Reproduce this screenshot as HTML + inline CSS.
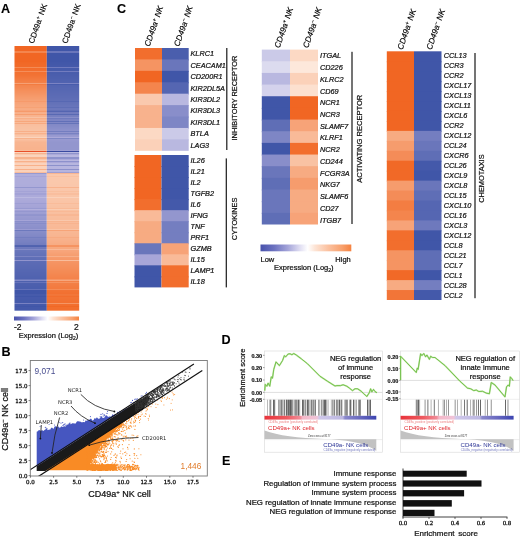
<!DOCTYPE html>
<html lang="en"><head><meta charset="utf-8"><title>Figure</title><style>html,body{margin:0;padding:0;background:#fff}svg{display:block}</style></head><body>
<svg width="520" height="537" viewBox="0 0 520 537" font-family='"Liberation Sans", Arial, sans-serif' fill="#111">
<defs>
<linearGradient id="cb" x1="0" x2="1" y1="0" y2="0"><stop offset="0" stop-color="#4852ac"/><stop offset="0.15" stop-color="#6c72c0"/><stop offset="0.3" stop-color="#a4a4d9"/><stop offset="0.44" stop-color="#e2e0f3"/><stop offset="0.52" stop-color="#ffffff"/><stop offset="0.6" stop-color="#fde4d5"/><stop offset="0.75" stop-color="#fbc09e"/><stop offset="0.9" stop-color="#f8a06c"/><stop offset="1" stop-color="#f58240"/></linearGradient>
</defs>
<rect width="520" height="537" fill="#fff"/>
<text x="1" y="13.2" font-size="12.6" font-weight="bold" fill="#000" stroke="#000" stroke-width="0.1">A</text>
<text x="1.5" y="356" font-size="12.6" font-weight="bold" fill="#000" stroke="#000" stroke-width="0.1">B</text>
<text x="117" y="13.4" font-size="12.6" font-weight="bold" fill="#000" stroke="#000" stroke-width="0.1">C</text>
<text x="221.5" y="343.5" font-size="12.6" font-weight="bold" fill="#000" stroke="#000" stroke-width="0.1">D</text>
<text x="222" y="464.8" font-size="12.6" font-weight="bold" fill="#000" stroke="#000" stroke-width="0.1">E</text>
<rect x="14.5" y="46.00" width="32.30" height="1.05" fill="#f16623"/>
<rect x="46.8" y="46.00" width="32.40" height="1.05" fill="#4056a8"/>
<rect x="14.5" y="47.00" width="32.30" height="1.05" fill="#f16623"/>
<rect x="46.8" y="47.00" width="32.40" height="1.05" fill="#4056a8"/>
<rect x="14.5" y="48.00" width="32.30" height="1.05" fill="#f16623"/>
<rect x="46.8" y="48.00" width="32.40" height="1.05" fill="#4056a8"/>
<rect x="14.5" y="49.00" width="32.30" height="1.05" fill="#f16623"/>
<rect x="46.8" y="49.00" width="32.40" height="1.05" fill="#4056a8"/>
<rect x="14.5" y="50.00" width="32.30" height="1.05" fill="#f16623"/>
<rect x="46.8" y="50.00" width="32.40" height="1.05" fill="#4056a8"/>
<rect x="14.5" y="51.00" width="32.30" height="1.05" fill="#f4854d"/>
<rect x="46.8" y="51.00" width="32.40" height="1.05" fill="#6a76bb"/>
<rect x="14.5" y="52.00" width="32.30" height="1.05" fill="#f4854d"/>
<rect x="46.8" y="52.00" width="32.40" height="1.05" fill="#6a76bb"/>
<rect x="14.5" y="53.00" width="32.30" height="1.05" fill="#f16623"/>
<rect x="46.8" y="53.00" width="32.40" height="1.05" fill="#4056a8"/>
<rect x="14.5" y="54.00" width="32.30" height="1.05" fill="#f16623"/>
<rect x="46.8" y="54.00" width="32.40" height="1.05" fill="#4056a8"/>
<rect x="14.5" y="55.00" width="32.30" height="1.05" fill="#f16623"/>
<rect x="46.8" y="55.00" width="32.40" height="1.05" fill="#4056a8"/>
<rect x="14.5" y="56.00" width="32.30" height="1.05" fill="#f16623"/>
<rect x="46.8" y="56.00" width="32.40" height="1.05" fill="#4056a8"/>
<rect x="14.5" y="57.00" width="32.30" height="1.05" fill="#f16623"/>
<rect x="46.8" y="57.00" width="32.40" height="1.05" fill="#4056a8"/>
<rect x="14.5" y="58.00" width="32.30" height="1.05" fill="#f16623"/>
<rect x="46.8" y="58.00" width="32.40" height="1.05" fill="#4056a8"/>
<rect x="14.5" y="59.00" width="32.30" height="1.05" fill="#f16623"/>
<rect x="46.8" y="59.00" width="32.40" height="1.05" fill="#4056a8"/>
<rect x="14.5" y="60.00" width="32.30" height="1.05" fill="#f16624"/>
<rect x="46.8" y="60.00" width="32.40" height="1.05" fill="#4056a8"/>
<rect x="14.5" y="61.00" width="32.30" height="1.05" fill="#f16623"/>
<rect x="46.8" y="61.00" width="32.40" height="1.05" fill="#4056a8"/>
<rect x="14.5" y="62.00" width="32.30" height="1.05" fill="#f16826"/>
<rect x="46.8" y="62.00" width="32.40" height="1.05" fill="#4257a9"/>
<rect x="14.5" y="63.00" width="32.30" height="1.05" fill="#f16927"/>
<rect x="46.8" y="63.00" width="32.40" height="1.05" fill="#4258a9"/>
<rect x="14.5" y="64.00" width="32.30" height="1.05" fill="#f16a28"/>
<rect x="46.8" y="64.00" width="32.40" height="1.05" fill="#4358a9"/>
<rect x="14.5" y="65.00" width="32.30" height="1.05" fill="#f16a29"/>
<rect x="46.8" y="65.00" width="32.40" height="1.05" fill="#4459aa"/>
<rect x="14.5" y="66.00" width="32.30" height="1.05" fill="#f16b2a"/>
<rect x="46.8" y="66.00" width="32.40" height="1.05" fill="#4559aa"/>
<rect x="14.5" y="67.00" width="32.30" height="1.05" fill="#f48b55"/>
<rect x="46.8" y="67.00" width="32.40" height="1.05" fill="#6f7abe"/>
<rect x="14.5" y="68.00" width="32.30" height="1.05" fill="#f26d2c"/>
<rect x="46.8" y="68.00" width="32.40" height="1.05" fill="#465bab"/>
<rect x="14.5" y="69.00" width="32.30" height="1.05" fill="#f26e2e"/>
<rect x="46.8" y="69.00" width="32.40" height="1.05" fill="#475bab"/>
<rect x="14.5" y="70.00" width="32.30" height="1.05" fill="#f26f2f"/>
<rect x="46.8" y="70.00" width="32.40" height="1.05" fill="#475cab"/>
<rect x="14.5" y="71.00" width="32.30" height="1.05" fill="#f58e5a"/>
<rect x="46.8" y="71.00" width="32.40" height="1.05" fill="#727cbf"/>
<rect x="14.5" y="72.00" width="32.30" height="1.05" fill="#f27031"/>
<rect x="46.8" y="72.00" width="32.40" height="1.05" fill="#495dac"/>
<rect x="14.5" y="73.00" width="32.30" height="1.05" fill="#f27132"/>
<rect x="46.8" y="73.00" width="32.40" height="1.05" fill="#495dac"/>
<rect x="14.5" y="74.00" width="32.30" height="1.05" fill="#f27233"/>
<rect x="46.8" y="74.00" width="32.40" height="1.05" fill="#4a5ead"/>
<rect x="14.5" y="75.00" width="32.30" height="1.05" fill="#f27335"/>
<rect x="46.8" y="75.00" width="32.40" height="1.05" fill="#4b5ead"/>
<rect x="14.5" y="76.00" width="32.30" height="1.05" fill="#f27538"/>
<rect x="46.8" y="76.00" width="32.40" height="1.05" fill="#4c5fad"/>
<rect x="14.5" y="77.00" width="32.30" height="1.05" fill="#f3773a"/>
<rect x="46.8" y="77.00" width="32.40" height="1.05" fill="#4c60ae"/>
<rect x="14.5" y="78.00" width="32.30" height="1.05" fill="#f3793d"/>
<rect x="46.8" y="78.00" width="32.40" height="1.05" fill="#4d60ae"/>
<rect x="14.5" y="79.00" width="32.30" height="1.05" fill="#f37b3f"/>
<rect x="46.8" y="79.00" width="32.40" height="1.05" fill="#4e61af"/>
<rect x="14.5" y="80.00" width="32.30" height="1.05" fill="#f37c42"/>
<rect x="46.8" y="80.00" width="32.40" height="1.05" fill="#4f62af"/>
<rect x="14.5" y="81.00" width="32.30" height="1.05" fill="#f37e44"/>
<rect x="46.8" y="81.00" width="32.40" height="1.05" fill="#5062af"/>
<rect x="14.5" y="82.00" width="32.30" height="1.05" fill="#f38047"/>
<rect x="46.8" y="82.00" width="32.40" height="1.05" fill="#5163b0"/>
<rect x="14.5" y="83.00" width="32.30" height="1.05" fill="#f6a074"/>
<rect x="46.8" y="83.00" width="32.40" height="1.05" fill="#7b83c3"/>
<rect x="14.5" y="84.00" width="32.30" height="1.05" fill="#f37c41"/>
<rect x="46.8" y="84.00" width="32.40" height="1.05" fill="#485cac"/>
<rect x="14.5" y="85.00" width="32.30" height="1.05" fill="#f4864e"/>
<rect x="46.8" y="85.00" width="32.40" height="1.05" fill="#5365b1"/>
<rect x="14.5" y="86.00" width="32.30" height="1.05" fill="#f48751"/>
<rect x="46.8" y="86.00" width="32.40" height="1.05" fill="#5465b1"/>
<rect x="14.5" y="87.00" width="32.30" height="1.05" fill="#f48953"/>
<rect x="46.8" y="87.00" width="32.40" height="1.05" fill="#5566b2"/>
<rect x="14.5" y="88.00" width="32.30" height="1.05" fill="#f48b56"/>
<rect x="46.8" y="88.00" width="32.40" height="1.05" fill="#5667b2"/>
<rect x="14.5" y="89.00" width="32.30" height="1.05" fill="#f58d58"/>
<rect x="46.8" y="89.00" width="32.40" height="1.05" fill="#5667b2"/>
<rect x="14.5" y="90.00" width="32.30" height="1.05" fill="#f58f5b"/>
<rect x="46.8" y="90.00" width="32.40" height="1.05" fill="#5768b3"/>
<rect x="14.5" y="91.00" width="32.30" height="1.05" fill="#f5915e"/>
<rect x="46.8" y="91.00" width="32.40" height="1.05" fill="#5869b3"/>
<rect x="14.5" y="92.00" width="32.30" height="1.05" fill="#f59260"/>
<rect x="46.8" y="92.00" width="32.40" height="1.05" fill="#5969b4"/>
<rect x="14.5" y="93.00" width="32.30" height="1.05" fill="#f59463"/>
<rect x="46.8" y="93.00" width="32.40" height="1.05" fill="#5a6ab4"/>
<rect x="14.5" y="94.00" width="32.30" height="1.05" fill="#f59665"/>
<rect x="46.8" y="94.00" width="32.40" height="1.05" fill="#5b6ab4"/>
<rect x="14.5" y="95.00" width="32.30" height="1.05" fill="#f69868"/>
<rect x="46.8" y="95.00" width="32.40" height="1.05" fill="#5b6bb5"/>
<rect x="14.5" y="96.00" width="32.30" height="1.05" fill="#f69a6a"/>
<rect x="46.8" y="96.00" width="32.40" height="1.05" fill="#5c6cb5"/>
<rect x="14.5" y="97.00" width="32.30" height="1.05" fill="#f69c6d"/>
<rect x="46.8" y="97.00" width="32.40" height="1.05" fill="#5d6cb5"/>
<rect x="14.5" y="98.00" width="32.30" height="1.05" fill="#f69d6f"/>
<rect x="46.8" y="98.00" width="32.40" height="1.05" fill="#5e6db6"/>
<rect x="14.5" y="99.00" width="32.30" height="1.05" fill="#f69f72"/>
<rect x="46.8" y="99.00" width="32.40" height="1.05" fill="#5f6eb6"/>
<rect x="14.5" y="100.00" width="32.30" height="1.05" fill="#f6a174"/>
<rect x="46.8" y="100.00" width="32.40" height="1.05" fill="#606fb7"/>
<rect x="14.5" y="101.00" width="32.30" height="1.05" fill="#f69a6b"/>
<rect x="46.8" y="101.00" width="32.40" height="1.05" fill="#5768b3"/>
<rect x="14.5" y="102.00" width="32.30" height="1.05" fill="#f7a378"/>
<rect x="46.8" y="102.00" width="32.40" height="1.05" fill="#6371b8"/>
<rect x="14.5" y="103.00" width="32.30" height="1.05" fill="#f7a479"/>
<rect x="46.8" y="103.00" width="32.40" height="1.05" fill="#6472b9"/>
<rect x="14.5" y="104.00" width="32.30" height="1.05" fill="#f7a67b"/>
<rect x="46.8" y="104.00" width="32.40" height="1.05" fill="#6573b9"/>
<rect x="14.5" y="105.00" width="32.30" height="1.05" fill="#f7a77d"/>
<rect x="46.8" y="105.00" width="32.40" height="1.05" fill="#6774ba"/>
<rect x="14.5" y="106.00" width="32.30" height="1.05" fill="#f7a87e"/>
<rect x="46.8" y="106.00" width="32.40" height="1.05" fill="#6875bb"/>
<rect x="14.5" y="107.00" width="32.30" height="1.05" fill="#f6a275"/>
<rect x="46.8" y="107.00" width="32.40" height="1.05" fill="#5f6eb6"/>
<rect x="14.5" y="108.00" width="32.30" height="1.05" fill="#f7ab82"/>
<rect x="46.8" y="108.00" width="32.40" height="1.05" fill="#6b77bc"/>
<rect x="14.5" y="109.00" width="32.30" height="1.05" fill="#f7ac84"/>
<rect x="46.8" y="109.00" width="32.40" height="1.05" fill="#6c78bc"/>
<rect x="14.5" y="110.00" width="32.30" height="1.05" fill="#f7a57b"/>
<rect x="46.8" y="110.00" width="32.40" height="1.05" fill="#6371b8"/>
<rect x="14.5" y="111.00" width="32.30" height="1.05" fill="#f69a6b"/>
<rect x="46.8" y="111.00" width="32.40" height="1.05" fill="#5465b1"/>
<rect x="14.5" y="112.00" width="32.30" height="1.05" fill="#f8af89"/>
<rect x="46.8" y="112.00" width="32.40" height="1.05" fill="#717bbe"/>
<rect x="14.5" y="113.00" width="32.30" height="1.05" fill="#f8b18b"/>
<rect x="46.8" y="113.00" width="32.40" height="1.05" fill="#727cbf"/>
<rect x="14.5" y="114.00" width="32.30" height="1.05" fill="#f69e70"/>
<rect x="46.8" y="114.00" width="32.40" height="1.05" fill="#5869b3"/>
<rect x="14.5" y="115.00" width="32.30" height="1.05" fill="#f8b38e"/>
<rect x="46.8" y="115.00" width="32.40" height="1.05" fill="#757fc0"/>
<rect x="14.5" y="116.00" width="32.30" height="1.05" fill="#f8b490"/>
<rect x="46.8" y="116.00" width="32.40" height="1.05" fill="#7680c1"/>
<rect x="14.5" y="117.00" width="32.30" height="1.05" fill="#f9c2a3"/>
<rect x="46.8" y="117.00" width="32.40" height="1.05" fill="#888ec9"/>
<rect x="14.5" y="118.00" width="32.30" height="1.05" fill="#f8af88"/>
<rect x="46.8" y="118.00" width="32.40" height="1.05" fill="#6f7abe"/>
<rect x="14.5" y="119.00" width="32.30" height="1.05" fill="#f9b895"/>
<rect x="46.8" y="119.00" width="32.40" height="1.05" fill="#7b83c3"/>
<rect x="14.5" y="120.00" width="32.30" height="1.05" fill="#f9b997"/>
<rect x="46.8" y="120.00" width="32.40" height="1.05" fill="#7c84c4"/>
<rect x="14.5" y="121.00" width="32.30" height="1.05" fill="#f7a77c"/>
<rect x="46.8" y="121.00" width="32.40" height="1.05" fill="#6270b8"/>
<rect x="14.5" y="122.00" width="32.30" height="1.05" fill="#f9bc9a"/>
<rect x="46.8" y="122.00" width="32.40" height="1.05" fill="#7f86c5"/>
<rect x="14.5" y="123.00" width="32.30" height="1.05" fill="#f7a980"/>
<rect x="46.8" y="123.00" width="32.40" height="1.05" fill="#6573b9"/>
<rect x="14.5" y="124.00" width="32.30" height="1.05" fill="#f9be9e"/>
<rect x="46.8" y="124.00" width="32.40" height="1.05" fill="#8289c6"/>
<rect x="14.5" y="125.00" width="32.30" height="1.05" fill="#f9bf9f"/>
<rect x="46.8" y="125.00" width="32.40" height="1.05" fill="#848ac7"/>
<rect x="14.5" y="126.00" width="32.30" height="1.05" fill="#f9c0a0"/>
<rect x="46.8" y="126.00" width="32.40" height="1.05" fill="#858bc8"/>
<rect x="14.5" y="127.00" width="32.30" height="1.05" fill="#f9c1a1"/>
<rect x="46.8" y="127.00" width="32.40" height="1.05" fill="#878dc9"/>
<rect x="14.5" y="128.00" width="32.30" height="1.05" fill="#f9c1a2"/>
<rect x="46.8" y="128.00" width="32.40" height="1.05" fill="#898eca"/>
<rect x="14.5" y="129.00" width="32.30" height="1.05" fill="#f9c2a3"/>
<rect x="46.8" y="129.00" width="32.40" height="1.05" fill="#8b90cb"/>
<rect x="14.5" y="130.00" width="32.30" height="1.05" fill="#f9c3a4"/>
<rect x="46.8" y="130.00" width="32.40" height="1.05" fill="#8d91cc"/>
<rect x="14.5" y="131.00" width="32.30" height="1.05" fill="#f8af89"/>
<rect x="46.8" y="131.00" width="32.40" height="1.05" fill="#747ec0"/>
<rect x="14.5" y="132.00" width="32.30" height="1.05" fill="#fac4a6"/>
<rect x="46.8" y="132.00" width="32.40" height="1.05" fill="#9194cd"/>
<rect x="14.5" y="133.00" width="32.30" height="1.05" fill="#f8b18b"/>
<rect x="46.8" y="133.00" width="32.40" height="1.05" fill="#7881c2"/>
<rect x="14.5" y="134.00" width="32.30" height="1.05" fill="#f9be9d"/>
<rect x="46.8" y="134.00" width="32.40" height="1.05" fill="#8a8fca"/>
<rect x="14.5" y="135.00" width="32.30" height="1.05" fill="#fac6a9"/>
<rect x="46.8" y="135.00" width="32.40" height="1.05" fill="#9799d0"/>
<rect x="14.5" y="136.00" width="32.30" height="1.05" fill="#fac7aa"/>
<rect x="46.8" y="136.00" width="32.40" height="1.05" fill="#999ad1"/>
<rect x="14.5" y="137.00" width="32.30" height="1.05" fill="#fbd4bd"/>
<rect x="46.8" y="137.00" width="32.40" height="1.05" fill="#aba9d9"/>
<rect x="14.5" y="138.00" width="32.30" height="1.05" fill="#f8b28c"/>
<rect x="46.8" y="138.00" width="32.40" height="1.05" fill="#7f87c5"/>
<rect x="14.5" y="139.00" width="32.30" height="1.05" fill="#f9c1a2"/>
<rect x="46.8" y="139.00" width="32.40" height="1.05" fill="#989ad1"/>
<rect x="14.5" y="140.00" width="32.30" height="1.05" fill="#f9bc9b"/>
<rect x="46.8" y="140.00" width="32.40" height="1.05" fill="#9698d0"/>
<rect x="14.5" y="141.00" width="32.30" height="1.05" fill="#f8b895"/>
<rect x="46.8" y="141.00" width="32.40" height="1.05" fill="#9497cf"/>
<rect x="14.5" y="142.00" width="32.30" height="1.05" fill="#f8b591"/>
<rect x="46.8" y="142.00" width="32.40" height="1.05" fill="#9396ce"/>
<rect x="14.5" y="143.00" width="32.30" height="1.05" fill="#f8b591"/>
<rect x="46.8" y="143.00" width="32.40" height="1.05" fill="#9396ce"/>
<rect x="14.5" y="144.00" width="32.30" height="1.05" fill="#f8b590"/>
<rect x="46.8" y="144.00" width="32.40" height="1.05" fill="#9396ce"/>
<rect x="14.5" y="145.00" width="32.30" height="1.05" fill="#f8b490"/>
<rect x="46.8" y="145.00" width="32.40" height="1.05" fill="#9396ce"/>
<rect x="14.5" y="146.00" width="32.30" height="1.05" fill="#f8b48f"/>
<rect x="46.8" y="146.00" width="32.40" height="1.05" fill="#9396ce"/>
<rect x="14.5" y="147.00" width="32.30" height="1.05" fill="#f8b38e"/>
<rect x="46.8" y="147.00" width="32.40" height="1.05" fill="#9396ce"/>
<rect x="14.5" y="148.00" width="32.30" height="1.05" fill="#f8b38e"/>
<rect x="46.8" y="148.00" width="32.40" height="1.05" fill="#9396ce"/>
<rect x="14.5" y="149.00" width="32.30" height="1.05" fill="#f8b38d"/>
<rect x="46.8" y="149.00" width="32.40" height="1.05" fill="#9396ce"/>
<rect x="14.5" y="150.00" width="32.30" height="1.05" fill="#f9bb99"/>
<rect x="46.8" y="150.00" width="32.40" height="1.05" fill="#9e9ed3"/>
<rect x="14.5" y="151.00" width="32.30" height="1.05" fill="#e8502a"/>
<rect x="46.8" y="151.00" width="32.40" height="1.05" fill="#3a4aa0"/>
<rect x="14.5" y="152.00" width="32.30" height="1.05" fill="#fbd4bd"/>
<rect x="46.8" y="152.00" width="32.40" height="1.05" fill="#b9b8e0"/>
<rect x="14.5" y="153.00" width="32.30" height="1.05" fill="#f8b28d"/>
<rect x="46.8" y="153.00" width="32.40" height="1.05" fill="#8f93cc"/>
<rect x="14.5" y="154.00" width="32.30" height="1.05" fill="#fac8ab"/>
<rect x="46.8" y="154.00" width="32.40" height="1.05" fill="#aba9d9"/>
<rect x="14.5" y="155.00" width="32.30" height="1.05" fill="#fbd4bd"/>
<rect x="46.8" y="155.00" width="32.40" height="1.05" fill="#b9b7e0"/>
<rect x="14.5" y="156.00" width="32.30" height="1.05" fill="#fbd3bc"/>
<rect x="46.8" y="156.00" width="32.40" height="1.05" fill="#b9b7df"/>
<rect x="14.5" y="157.00" width="32.30" height="1.05" fill="#f8b28c"/>
<rect x="46.8" y="157.00" width="32.40" height="1.05" fill="#8e92cc"/>
<rect x="14.5" y="158.00" width="32.30" height="1.05" fill="#f8b28c"/>
<rect x="46.8" y="158.00" width="32.40" height="1.05" fill="#8e92cc"/>
<rect x="14.5" y="159.00" width="32.30" height="1.05" fill="#fac7aa"/>
<rect x="46.8" y="159.00" width="32.40" height="1.05" fill="#aaa8d9"/>
<rect x="14.5" y="160.00" width="32.30" height="1.05" fill="#fbd3bc"/>
<rect x="46.8" y="160.00" width="32.40" height="1.05" fill="#b8b6df"/>
<rect x="14.5" y="161.00" width="32.30" height="1.05" fill="#f8b18b"/>
<rect x="46.8" y="161.00" width="32.40" height="1.05" fill="#8d91cc"/>
<rect x="14.5" y="162.00" width="32.30" height="1.05" fill="#fac6a9"/>
<rect x="46.8" y="162.00" width="32.40" height="1.05" fill="#aaa8d9"/>
<rect x="14.5" y="163.00" width="32.30" height="1.05" fill="#fbd2bb"/>
<rect x="46.8" y="163.00" width="32.40" height="1.05" fill="#b7b6df"/>
<rect x="14.5" y="164.00" width="32.30" height="1.05" fill="#fbd2bb"/>
<rect x="46.8" y="164.00" width="32.40" height="1.05" fill="#b7b6df"/>
<rect x="14.5" y="165.00" width="32.30" height="1.05" fill="#f8b18a"/>
<rect x="46.8" y="165.00" width="32.40" height="1.05" fill="#8c91cb"/>
<rect x="14.5" y="166.00" width="32.30" height="1.05" fill="#fbd2ba"/>
<rect x="46.8" y="166.00" width="32.40" height="1.05" fill="#b7b5df"/>
<rect x="14.5" y="167.00" width="32.30" height="1.05" fill="#fbd2ba"/>
<rect x="46.8" y="167.00" width="32.40" height="1.05" fill="#b7b5df"/>
<rect x="14.5" y="168.00" width="32.30" height="1.05" fill="#fbd2ba"/>
<rect x="46.8" y="168.00" width="32.40" height="1.05" fill="#b7b5df"/>
<rect x="14.5" y="169.00" width="32.30" height="1.05" fill="#f8b089"/>
<rect x="46.8" y="169.00" width="32.40" height="1.05" fill="#8c90cb"/>
<rect x="14.5" y="170.00" width="32.30" height="1.05" fill="#fbd1b9"/>
<rect x="46.8" y="170.00" width="32.40" height="1.05" fill="#b6b5de"/>
<rect x="14.5" y="171.00" width="32.30" height="1.05" fill="#fbd1b9"/>
<rect x="46.8" y="171.00" width="32.40" height="1.05" fill="#b6b4de"/>
<rect x="14.5" y="172.00" width="32.30" height="1.05" fill="#f9bd9c"/>
<rect x="46.8" y="172.00" width="32.40" height="1.05" fill="#9e9ed3"/>
<rect x="14.5" y="173.00" width="32.30" height="1.05" fill="#9799d0"/>
<rect x="46.8" y="173.00" width="32.40" height="1.05" fill="#f8b591"/>
<rect x="14.5" y="174.00" width="32.30" height="1.05" fill="#b0afdc"/>
<rect x="46.8" y="174.00" width="32.40" height="1.05" fill="#fac9ad"/>
<rect x="14.5" y="175.00" width="32.30" height="1.05" fill="#b0aedc"/>
<rect x="46.8" y="175.00" width="32.40" height="1.05" fill="#fac9ad"/>
<rect x="14.5" y="176.00" width="32.30" height="1.05" fill="#a7a5d8"/>
<rect x="46.8" y="176.00" width="32.40" height="1.05" fill="#f9c1a2"/>
<rect x="14.5" y="177.00" width="32.30" height="1.05" fill="#b0aedb"/>
<rect x="46.8" y="177.00" width="32.40" height="1.05" fill="#fac9ad"/>
<rect x="14.5" y="178.00" width="32.30" height="1.05" fill="#b0aedb"/>
<rect x="46.8" y="178.00" width="32.40" height="1.05" fill="#fac8ac"/>
<rect x="14.5" y="179.00" width="32.30" height="1.05" fill="#afaedb"/>
<rect x="46.8" y="179.00" width="32.40" height="1.05" fill="#fac8ac"/>
<rect x="14.5" y="180.00" width="32.30" height="1.05" fill="#afaddb"/>
<rect x="46.8" y="180.00" width="32.40" height="1.05" fill="#fac8ac"/>
<rect x="14.5" y="181.00" width="32.30" height="1.05" fill="#afaddb"/>
<rect x="46.8" y="181.00" width="32.40" height="1.05" fill="#fac8ac"/>
<rect x="14.5" y="182.00" width="32.30" height="1.05" fill="#afaddb"/>
<rect x="46.8" y="182.00" width="32.40" height="1.05" fill="#fac8ab"/>
<rect x="14.5" y="183.00" width="32.30" height="1.05" fill="#afaddb"/>
<rect x="46.8" y="183.00" width="32.40" height="1.05" fill="#fac8ab"/>
<rect x="14.5" y="184.00" width="32.30" height="1.05" fill="#aeaddb"/>
<rect x="46.8" y="184.00" width="32.40" height="1.05" fill="#fac7ab"/>
<rect x="14.5" y="185.00" width="32.30" height="1.05" fill="#aeacdb"/>
<rect x="46.8" y="185.00" width="32.40" height="1.05" fill="#fac7ab"/>
<rect x="14.5" y="186.00" width="32.30" height="1.05" fill="#aeacdb"/>
<rect x="46.8" y="186.00" width="32.40" height="1.05" fill="#fac7ab"/>
<rect x="14.5" y="187.00" width="32.30" height="1.05" fill="#9497cf"/>
<rect x="46.8" y="187.00" width="32.40" height="1.05" fill="#f8b38e"/>
<rect x="14.5" y="188.00" width="32.30" height="1.05" fill="#aeacdb"/>
<rect x="46.8" y="188.00" width="32.40" height="1.05" fill="#fac7aa"/>
<rect x="14.5" y="189.00" width="32.30" height="1.05" fill="#adacda"/>
<rect x="46.8" y="189.00" width="32.40" height="1.05" fill="#fac7aa"/>
<rect x="14.5" y="190.00" width="32.30" height="1.05" fill="#adabda"/>
<rect x="46.8" y="190.00" width="32.40" height="1.05" fill="#fac6aa"/>
<rect x="14.5" y="191.00" width="32.30" height="1.05" fill="#a4a3d6"/>
<rect x="46.8" y="191.00" width="32.40" height="1.05" fill="#f9bf9e"/>
<rect x="14.5" y="192.00" width="32.30" height="1.05" fill="#adabda"/>
<rect x="46.8" y="192.00" width="32.40" height="1.05" fill="#fac6a9"/>
<rect x="14.5" y="193.00" width="32.30" height="1.05" fill="#a3a2d6"/>
<rect x="46.8" y="193.00" width="32.40" height="1.05" fill="#f9be9e"/>
<rect x="14.5" y="194.00" width="32.30" height="1.05" fill="#a3a2d6"/>
<rect x="46.8" y="194.00" width="32.40" height="1.05" fill="#f9be9e"/>
<rect x="14.5" y="195.00" width="32.30" height="1.05" fill="#acaada"/>
<rect x="46.8" y="195.00" width="32.40" height="1.05" fill="#fac6a8"/>
<rect x="14.5" y="196.00" width="32.30" height="1.05" fill="#acaada"/>
<rect x="46.8" y="196.00" width="32.40" height="1.05" fill="#fac5a8"/>
<rect x="14.5" y="197.00" width="32.30" height="1.05" fill="#bab8e0"/>
<rect x="46.8" y="197.00" width="32.40" height="1.05" fill="#fbd2ba"/>
<rect x="14.5" y="198.00" width="32.30" height="1.05" fill="#acaada"/>
<rect x="46.8" y="198.00" width="32.40" height="1.05" fill="#fac5a8"/>
<rect x="14.5" y="199.00" width="32.30" height="1.05" fill="#acaada"/>
<rect x="46.8" y="199.00" width="32.40" height="1.05" fill="#fac5a7"/>
<rect x="14.5" y="200.00" width="32.30" height="1.05" fill="#aba9d9"/>
<rect x="46.8" y="200.00" width="32.40" height="1.05" fill="#fac5a7"/>
<rect x="14.5" y="201.00" width="32.30" height="1.05" fill="#aaa8d9"/>
<rect x="46.8" y="201.00" width="32.40" height="1.05" fill="#fac4a6"/>
<rect x="14.5" y="202.00" width="32.30" height="1.05" fill="#a9a7d9"/>
<rect x="46.8" y="202.00" width="32.40" height="1.05" fill="#fac4a6"/>
<rect x="14.5" y="203.00" width="32.30" height="1.05" fill="#9e9ed3"/>
<rect x="46.8" y="203.00" width="32.40" height="1.05" fill="#f9bc9a"/>
<rect x="14.5" y="204.00" width="32.30" height="1.05" fill="#a7a5d8"/>
<rect x="46.8" y="204.00" width="32.40" height="1.05" fill="#fac3a5"/>
<rect x="14.5" y="205.00" width="32.30" height="1.05" fill="#a6a5d7"/>
<rect x="46.8" y="205.00" width="32.40" height="1.05" fill="#f9c3a4"/>
<rect x="14.5" y="206.00" width="32.30" height="1.05" fill="#a5a4d7"/>
<rect x="46.8" y="206.00" width="32.40" height="1.05" fill="#f9c2a3"/>
<rect x="14.5" y="207.00" width="32.30" height="1.05" fill="#a4a3d6"/>
<rect x="46.8" y="207.00" width="32.40" height="1.05" fill="#f9c2a3"/>
<rect x="14.5" y="208.00" width="32.30" height="1.05" fill="#989ad1"/>
<rect x="46.8" y="208.00" width="32.40" height="1.05" fill="#f9ba97"/>
<rect x="14.5" y="209.00" width="32.30" height="1.05" fill="#b1afdc"/>
<rect x="46.8" y="209.00" width="32.40" height="1.05" fill="#facdb3"/>
<rect x="14.5" y="210.00" width="32.30" height="1.05" fill="#a1a0d5"/>
<rect x="46.8" y="210.00" width="32.40" height="1.05" fill="#f9c1a1"/>
<rect x="14.5" y="211.00" width="32.30" height="1.05" fill="#9597cf"/>
<rect x="46.8" y="211.00" width="32.40" height="1.05" fill="#f9b996"/>
<rect x="14.5" y="212.00" width="32.30" height="1.05" fill="#9e9fd4"/>
<rect x="46.8" y="212.00" width="32.40" height="1.05" fill="#f9c0a0"/>
<rect x="14.5" y="213.00" width="32.30" height="1.05" fill="#9d9ed3"/>
<rect x="46.8" y="213.00" width="32.40" height="1.05" fill="#f9bf9f"/>
<rect x="14.5" y="214.00" width="32.30" height="1.05" fill="#9295ce"/>
<rect x="46.8" y="214.00" width="32.40" height="1.05" fill="#f8b794"/>
<rect x="14.5" y="215.00" width="32.30" height="1.05" fill="#9094cd"/>
<rect x="46.8" y="215.00" width="32.40" height="1.05" fill="#f8b793"/>
<rect x="14.5" y="216.00" width="32.30" height="1.05" fill="#9a9bd1"/>
<rect x="46.8" y="216.00" width="32.40" height="1.05" fill="#f9be9e"/>
<rect x="14.5" y="217.00" width="32.30" height="1.05" fill="#989ad1"/>
<rect x="46.8" y="217.00" width="32.40" height="1.05" fill="#f9be9d"/>
<rect x="14.5" y="218.00" width="32.30" height="1.05" fill="#9799d0"/>
<rect x="46.8" y="218.00" width="32.40" height="1.05" fill="#f9bd9c"/>
<rect x="14.5" y="219.00" width="32.30" height="1.05" fill="#9698d0"/>
<rect x="46.8" y="219.00" width="32.40" height="1.05" fill="#f9bd9c"/>
<rect x="14.5" y="220.00" width="32.30" height="1.05" fill="#a5a4d7"/>
<rect x="46.8" y="220.00" width="32.40" height="1.05" fill="#fac8ac"/>
<rect x="14.5" y="221.00" width="32.30" height="1.05" fill="#898eca"/>
<rect x="46.8" y="221.00" width="32.40" height="1.05" fill="#f8b48f"/>
<rect x="14.5" y="222.00" width="32.30" height="1.05" fill="#9295ce"/>
<rect x="46.8" y="222.00" width="32.40" height="1.05" fill="#f9bb9a"/>
<rect x="14.5" y="223.00" width="32.30" height="1.05" fill="#878cc9"/>
<rect x="46.8" y="223.00" width="32.40" height="1.05" fill="#f8b38e"/>
<rect x="14.5" y="224.00" width="32.30" height="1.05" fill="#9093cd"/>
<rect x="46.8" y="224.00" width="32.40" height="1.05" fill="#f9ba98"/>
<rect x="14.5" y="225.00" width="32.30" height="1.05" fill="#8e92cc"/>
<rect x="46.8" y="225.00" width="32.40" height="1.05" fill="#f9ba98"/>
<rect x="14.5" y="226.00" width="32.30" height="1.05" fill="#8d91cc"/>
<rect x="46.8" y="226.00" width="32.40" height="1.05" fill="#f9b997"/>
<rect x="14.5" y="227.00" width="32.30" height="1.05" fill="#8c90cb"/>
<rect x="46.8" y="227.00" width="32.40" height="1.05" fill="#f9b996"/>
<rect x="14.5" y="228.00" width="32.30" height="1.05" fill="#8b8fca"/>
<rect x="46.8" y="228.00" width="32.40" height="1.05" fill="#f9b996"/>
<rect x="14.5" y="229.00" width="32.30" height="1.05" fill="#9a9bd2"/>
<rect x="46.8" y="229.00" width="32.40" height="1.05" fill="#fac4a6"/>
<rect x="14.5" y="230.00" width="32.30" height="1.05" fill="#6d79bd"/>
<rect x="46.8" y="230.00" width="32.40" height="1.05" fill="#f7a478"/>
<rect x="14.5" y="231.00" width="32.30" height="1.05" fill="#878dc9"/>
<rect x="46.8" y="231.00" width="32.40" height="1.05" fill="#f8b794"/>
<rect x="14.5" y="232.00" width="32.30" height="1.05" fill="#868cc8"/>
<rect x="46.8" y="232.00" width="32.40" height="1.05" fill="#f8b793"/>
<rect x="14.5" y="233.00" width="32.30" height="1.05" fill="#848bc8"/>
<rect x="46.8" y="233.00" width="32.40" height="1.05" fill="#f8b692"/>
<rect x="14.5" y="234.00" width="32.30" height="1.05" fill="#838ac7"/>
<rect x="46.8" y="234.00" width="32.40" height="1.05" fill="#f8b692"/>
<rect x="14.5" y="235.00" width="32.30" height="1.05" fill="#8289c6"/>
<rect x="46.8" y="235.00" width="32.40" height="1.05" fill="#f8b591"/>
<rect x="14.5" y="236.00" width="32.30" height="1.05" fill="#8087c6"/>
<rect x="46.8" y="236.00" width="32.40" height="1.05" fill="#f8b48f"/>
<rect x="14.5" y="237.00" width="32.30" height="1.05" fill="#747ec0"/>
<rect x="46.8" y="237.00" width="32.40" height="1.05" fill="#f7ab83"/>
<rect x="14.5" y="238.00" width="32.30" height="1.05" fill="#7d85c4"/>
<rect x="46.8" y="238.00" width="32.40" height="1.05" fill="#f8b28c"/>
<rect x="14.5" y="239.00" width="32.30" height="1.05" fill="#7b83c3"/>
<rect x="46.8" y="239.00" width="32.40" height="1.05" fill="#f8b18b"/>
<rect x="14.5" y="240.00" width="32.30" height="1.05" fill="#7982c2"/>
<rect x="46.8" y="240.00" width="32.40" height="1.05" fill="#f8b08a"/>
<rect x="14.5" y="241.00" width="32.30" height="1.05" fill="#7881c2"/>
<rect x="46.8" y="241.00" width="32.40" height="1.05" fill="#f8af88"/>
<rect x="14.5" y="242.00" width="32.30" height="1.05" fill="#7680c1"/>
<rect x="46.8" y="242.00" width="32.40" height="1.05" fill="#f8ae87"/>
<rect x="14.5" y="243.00" width="32.30" height="1.05" fill="#747ec0"/>
<rect x="46.8" y="243.00" width="32.40" height="1.05" fill="#f7ad85"/>
<rect x="14.5" y="244.00" width="32.30" height="1.05" fill="#737dbf"/>
<rect x="46.8" y="244.00" width="32.40" height="1.05" fill="#f7ac84"/>
<rect x="14.5" y="245.00" width="32.30" height="1.05" fill="#5264b0"/>
<rect x="46.8" y="245.00" width="32.40" height="1.05" fill="#f59462"/>
<rect x="14.5" y="246.00" width="32.30" height="1.05" fill="#5062af"/>
<rect x="46.8" y="246.00" width="32.40" height="1.05" fill="#f59361"/>
<rect x="14.5" y="247.00" width="32.30" height="1.05" fill="#6e79bd"/>
<rect x="46.8" y="247.00" width="32.40" height="1.05" fill="#f7a97f"/>
<rect x="14.5" y="248.00" width="32.30" height="1.05" fill="#6c78bc"/>
<rect x="46.8" y="248.00" width="32.40" height="1.05" fill="#f7a87e"/>
<rect x="14.5" y="249.00" width="32.30" height="1.05" fill="#838ac7"/>
<rect x="46.8" y="249.00" width="32.40" height="1.05" fill="#f9b997"/>
<rect x="14.5" y="250.00" width="32.30" height="1.05" fill="#6976bb"/>
<rect x="46.8" y="250.00" width="32.40" height="1.05" fill="#f7a57b"/>
<rect x="14.5" y="251.00" width="32.30" height="1.05" fill="#6875ba"/>
<rect x="46.8" y="251.00" width="32.40" height="1.05" fill="#f7a479"/>
<rect x="14.5" y="252.00" width="32.30" height="1.05" fill="#6674ba"/>
<rect x="46.8" y="252.00" width="32.40" height="1.05" fill="#f7a277"/>
<rect x="14.5" y="253.00" width="32.30" height="1.05" fill="#6573b9"/>
<rect x="46.8" y="253.00" width="32.40" height="1.05" fill="#f6a174"/>
<rect x="14.5" y="254.00" width="32.30" height="1.05" fill="#6472b9"/>
<rect x="46.8" y="254.00" width="32.40" height="1.05" fill="#f69f72"/>
<rect x="14.5" y="255.00" width="32.30" height="1.05" fill="#6371b8"/>
<rect x="46.8" y="255.00" width="32.40" height="1.05" fill="#f69e70"/>
<rect x="14.5" y="256.00" width="32.30" height="1.05" fill="#7a83c3"/>
<rect x="46.8" y="256.00" width="32.40" height="1.05" fill="#f8af88"/>
<rect x="14.5" y="257.00" width="32.30" height="1.05" fill="#606fb7"/>
<rect x="46.8" y="257.00" width="32.40" height="1.05" fill="#f69b6c"/>
<rect x="14.5" y="258.00" width="32.30" height="1.05" fill="#5f6eb6"/>
<rect x="46.8" y="258.00" width="32.40" height="1.05" fill="#f6996a"/>
<rect x="14.5" y="259.00" width="32.30" height="1.05" fill="#5e6db6"/>
<rect x="46.8" y="259.00" width="32.40" height="1.05" fill="#f69868"/>
<rect x="14.5" y="260.00" width="32.30" height="1.05" fill="#9194cd"/>
<rect x="46.8" y="260.00" width="32.40" height="1.05" fill="#f9bd9c"/>
<rect x="14.5" y="261.00" width="32.30" height="1.05" fill="#5c6cb5"/>
<rect x="46.8" y="261.00" width="32.40" height="1.05" fill="#f59564"/>
<rect x="14.5" y="262.00" width="32.30" height="1.05" fill="#5b6bb5"/>
<rect x="46.8" y="262.00" width="32.40" height="1.05" fill="#f59463"/>
<rect x="14.5" y="263.00" width="32.30" height="1.05" fill="#5b6ab4"/>
<rect x="46.8" y="263.00" width="32.40" height="1.05" fill="#f59361"/>
<rect x="14.5" y="264.00" width="32.30" height="1.05" fill="#5a6ab4"/>
<rect x="46.8" y="264.00" width="32.40" height="1.05" fill="#f59260"/>
<rect x="14.5" y="265.00" width="32.30" height="1.05" fill="#5969b4"/>
<rect x="46.8" y="265.00" width="32.40" height="1.05" fill="#f5915e"/>
<rect x="14.5" y="266.00" width="32.30" height="1.05" fill="#5869b3"/>
<rect x="46.8" y="266.00" width="32.40" height="1.05" fill="#f5905d"/>
<rect x="14.5" y="267.00" width="32.30" height="1.05" fill="#5868b3"/>
<rect x="46.8" y="267.00" width="32.40" height="1.05" fill="#f58f5b"/>
<rect x="14.5" y="268.00" width="32.30" height="1.05" fill="#5768b3"/>
<rect x="46.8" y="268.00" width="32.40" height="1.05" fill="#f58e5a"/>
<rect x="14.5" y="269.00" width="32.30" height="1.05" fill="#5667b2"/>
<rect x="46.8" y="269.00" width="32.40" height="1.05" fill="#f58d58"/>
<rect x="14.5" y="270.00" width="32.30" height="1.05" fill="#5567b2"/>
<rect x="46.8" y="270.00" width="32.40" height="1.05" fill="#f48c57"/>
<rect x="14.5" y="271.00" width="32.30" height="1.05" fill="#5566b2"/>
<rect x="46.8" y="271.00" width="32.40" height="1.05" fill="#f48b55"/>
<rect x="14.5" y="272.00" width="32.30" height="1.05" fill="#5465b1"/>
<rect x="46.8" y="272.00" width="32.40" height="1.05" fill="#f48a54"/>
<rect x="14.5" y="273.00" width="32.30" height="1.05" fill="#5365b1"/>
<rect x="46.8" y="273.00" width="32.40" height="1.05" fill="#f48952"/>
<rect x="14.5" y="274.00" width="32.30" height="1.05" fill="#5364b1"/>
<rect x="46.8" y="274.00" width="32.40" height="1.05" fill="#f48751"/>
<rect x="14.5" y="275.00" width="32.30" height="1.05" fill="#5264b0"/>
<rect x="46.8" y="275.00" width="32.40" height="1.05" fill="#f4864f"/>
<rect x="14.5" y="276.00" width="32.30" height="1.05" fill="#5163b0"/>
<rect x="46.8" y="276.00" width="32.40" height="1.05" fill="#f4854e"/>
<rect x="14.5" y="277.00" width="32.30" height="1.05" fill="#5063b0"/>
<rect x="46.8" y="277.00" width="32.40" height="1.05" fill="#f4844c"/>
<rect x="14.5" y="278.00" width="32.30" height="1.05" fill="#5062af"/>
<rect x="46.8" y="278.00" width="32.40" height="1.05" fill="#f4834b"/>
<rect x="14.5" y="279.00" width="32.30" height="1.05" fill="#6875ba"/>
<rect x="46.8" y="279.00" width="32.40" height="1.05" fill="#f59463"/>
<rect x="14.5" y="280.00" width="32.30" height="1.05" fill="#8289c7"/>
<rect x="46.8" y="280.00" width="32.40" height="1.05" fill="#f7a77d"/>
<rect x="14.5" y="281.00" width="32.30" height="1.05" fill="#4e61ae"/>
<rect x="46.8" y="281.00" width="32.40" height="1.05" fill="#f38047"/>
<rect x="14.5" y="282.00" width="32.30" height="1.05" fill="#6673ba"/>
<rect x="46.8" y="282.00" width="32.40" height="1.05" fill="#f5925f"/>
<rect x="14.5" y="283.00" width="32.30" height="1.05" fill="#4d60ae"/>
<rect x="46.8" y="283.00" width="32.40" height="1.05" fill="#f37f45"/>
<rect x="14.5" y="284.00" width="32.30" height="1.05" fill="#4c5fae"/>
<rect x="46.8" y="284.00" width="32.40" height="1.05" fill="#f37e44"/>
<rect x="14.5" y="285.00" width="32.30" height="1.05" fill="#4c5fad"/>
<rect x="46.8" y="285.00" width="32.40" height="1.05" fill="#f37d43"/>
<rect x="14.5" y="286.00" width="32.30" height="1.05" fill="#4b5ead"/>
<rect x="46.8" y="286.00" width="32.40" height="1.05" fill="#f37c41"/>
<rect x="14.5" y="287.00" width="32.30" height="1.05" fill="#4a5ead"/>
<rect x="46.8" y="287.00" width="32.40" height="1.05" fill="#f37b40"/>
<rect x="14.5" y="288.00" width="32.30" height="1.05" fill="#4a5ead"/>
<rect x="46.8" y="288.00" width="32.40" height="1.05" fill="#f37b3f"/>
<rect x="14.5" y="289.00" width="32.30" height="1.05" fill="#6270b8"/>
<rect x="46.8" y="289.00" width="32.40" height="1.05" fill="#f48c57"/>
<rect x="14.5" y="290.00" width="32.30" height="1.05" fill="#4056a8"/>
<rect x="46.8" y="290.00" width="32.40" height="1.05" fill="#f27335"/>
<rect x="14.5" y="291.00" width="32.30" height="1.05" fill="#4056a8"/>
<rect x="46.8" y="291.00" width="32.40" height="1.05" fill="#f27233"/>
<rect x="14.5" y="292.00" width="32.30" height="1.05" fill="#4056a8"/>
<rect x="46.8" y="292.00" width="32.40" height="1.05" fill="#f27132"/>
<rect x="14.5" y="293.00" width="32.30" height="1.05" fill="#4056a8"/>
<rect x="46.8" y="293.00" width="32.40" height="1.05" fill="#f27031"/>
<rect x="14.5" y="294.00" width="32.30" height="1.05" fill="#475bab"/>
<rect x="46.8" y="294.00" width="32.40" height="1.05" fill="#f27639"/>
<rect x="14.5" y="295.00" width="32.30" height="1.05" fill="#465bab"/>
<rect x="46.8" y="295.00" width="32.40" height="1.05" fill="#f27537"/>
<rect x="14.5" y="296.00" width="32.30" height="1.05" fill="#4056a8"/>
<rect x="46.8" y="296.00" width="32.40" height="1.05" fill="#f26e2e"/>
<rect x="14.5" y="297.00" width="32.30" height="1.05" fill="#465aab"/>
<rect x="46.8" y="297.00" width="32.40" height="1.05" fill="#f27335"/>
<rect x="14.5" y="298.00" width="32.30" height="1.05" fill="#465aab"/>
<rect x="46.8" y="298.00" width="32.40" height="1.05" fill="#f27334"/>
<rect x="14.5" y="299.00" width="32.30" height="1.05" fill="#455aaa"/>
<rect x="46.8" y="299.00" width="32.40" height="1.05" fill="#f27233"/>
<rect x="14.5" y="300.00" width="32.30" height="1.05" fill="#455aaa"/>
<rect x="46.8" y="300.00" width="32.40" height="1.05" fill="#f27132"/>
<rect x="14.5" y="301.00" width="32.30" height="1.05" fill="#455aaa"/>
<rect x="46.8" y="301.00" width="32.40" height="1.05" fill="#f27031"/>
<rect x="14.5" y="302.00" width="32.30" height="1.05" fill="#455aaa"/>
<rect x="46.8" y="302.00" width="32.40" height="1.05" fill="#f27030"/>
<rect x="14.5" y="303.00" width="32.30" height="1.05" fill="#7881c2"/>
<rect x="46.8" y="303.00" width="32.40" height="1.05" fill="#f59564"/>
<rect x="14.5" y="304.00" width="32.30" height="1.05" fill="#4459aa"/>
<rect x="46.8" y="304.00" width="32.40" height="1.05" fill="#f26e2e"/>
<rect x="14.5" y="305.00" width="32.30" height="1.05" fill="#4459aa"/>
<rect x="46.8" y="305.00" width="32.40" height="1.05" fill="#f26e2d"/>
<rect x="14.5" y="306.00" width="32.30" height="1.05" fill="#4056a8"/>
<rect x="46.8" y="306.00" width="32.40" height="1.05" fill="#f16825"/>
<rect x="14.5" y="307.00" width="32.30" height="1.05" fill="#4459aa"/>
<rect x="46.8" y="307.00" width="32.40" height="1.05" fill="#f26e2d"/>
<rect x="14.5" y="308.00" width="32.30" height="1.05" fill="#4459aa"/>
<rect x="46.8" y="308.00" width="32.40" height="1.05" fill="#f26e2d"/>
<rect x="14.5" y="309.00" width="32.30" height="1.05" fill="#4459aa"/>
<rect x="46.8" y="309.00" width="32.40" height="1.05" fill="#f26e2d"/>
<rect x="14.5" y="310.00" width="32.30" height="0.65" fill="#4056a8"/>
<rect x="46.8" y="310.00" width="32.40" height="0.65" fill="#f16825"/>
<text transform="translate(33.5,44) rotate(-70.5)" font-size="8.0" fill="#000" stroke="#000" stroke-width="0.15">CD49a<tspan font-size="5.20" dy="-2.6">+</tspan><tspan dy="2.6"> NK</tspan></text>
<text transform="translate(67,44) rotate(-70.5)" font-size="8.0" fill="#000" stroke="#000" stroke-width="0.15">CD49a<tspan font-size="5.20" dy="-2.6">−</tspan><tspan dy="2.6"> NK</tspan></text>
<rect x="14" y="316.5" width="65" height="4" fill="url(#cb)"/>
<text x="14.0" y="329.8" font-size="8.5" stroke="#111" stroke-width="0.22">-2</text>
<text x="78.7" y="329.8" font-size="8.5" text-anchor="end" stroke="#111" stroke-width="0.22">2</text>
<text x="48.5" y="338.3" font-size="7.5" text-anchor="middle" stroke="#111" stroke-width="0.22">Expression (Log<tspan font-size="5" dy="1.5">2</tspan><tspan dy="-1.5">)</tspan></text>
<rect x="135" y="48.00" width="27.00" height="12.42" fill="#f26e2d"/>
<rect x="162" y="48.00" width="26.70" height="12.42" fill="#4a5ead"/>
<text x="190.5" y="56.34" font-size="7.3" font-style="italic" fill="#111" stroke="#111" stroke-width="0.22">KLRC1</text>
<rect x="135" y="59.42" width="27.00" height="12.42" fill="#f59462"/>
<rect x="162" y="59.42" width="26.70" height="12.42" fill="#6a76bb"/>
<text x="190.5" y="67.76" font-size="7.3" font-style="italic" fill="#111" stroke="#111" stroke-width="0.22">CEACAM1</text>
<rect x="135" y="70.84" width="27.00" height="12.42" fill="#f16623"/>
<rect x="162" y="70.84" width="26.70" height="12.42" fill="#4056a8"/>
<text x="190.5" y="79.18" font-size="7.3" font-style="italic" fill="#111" stroke="#111" stroke-width="0.22">CD200R1</text>
<rect x="135" y="82.27" width="27.00" height="12.42" fill="#f4854d"/>
<rect x="162" y="82.27" width="26.70" height="12.42" fill="#5566b2"/>
<text x="190.5" y="90.61" font-size="7.3" font-style="italic" fill="#111" stroke="#111" stroke-width="0.22">KIR2DL5A</text>
<rect x="135" y="93.69" width="27.00" height="12.42" fill="#fac9ae"/>
<rect x="162" y="93.69" width="26.70" height="12.42" fill="#b9b8e0"/>
<text x="190.5" y="102.03" font-size="7.3" font-style="italic" fill="#111" stroke="#111" stroke-width="0.22">KIR3DL2</text>
<rect x="135" y="105.11" width="27.00" height="12.42" fill="#f8b28d"/>
<rect x="162" y="105.11" width="26.70" height="12.42" fill="#898eca"/>
<text x="190.5" y="113.45" font-size="7.3" font-style="italic" fill="#111" stroke="#111" stroke-width="0.22">KIR3DL3</text>
<rect x="135" y="116.53" width="27.00" height="12.42" fill="#f8b28d"/>
<rect x="162" y="116.53" width="26.70" height="12.42" fill="#7e86c5"/>
<text x="190.5" y="124.87" font-size="7.3" font-style="italic" fill="#111" stroke="#111" stroke-width="0.22">KIR3DL1</text>
<rect x="135" y="127.96" width="27.00" height="12.42" fill="#fcd9c4"/>
<rect x="162" y="127.96" width="26.70" height="12.42" fill="#cbcae8"/>
<text x="190.5" y="136.29" font-size="7.3" font-style="italic" fill="#111" stroke="#111" stroke-width="0.22">BTLA</text>
<rect x="135" y="139.38" width="27.00" height="11.42" fill="#fbd1b9"/>
<rect x="162" y="139.38" width="26.70" height="11.42" fill="#b9b8e0"/>
<text x="190.5" y="147.72" font-size="7.3" font-style="italic" fill="#111" stroke="#111" stroke-width="0.22">LAG3</text>
<rect x="226.20000000000002" y="48" width="1.2" height="102" fill="#1a1a1a"/>
<text transform="translate(237.1,98.0) rotate(-90)" font-size="7.4" text-anchor="middle" fill="#111" stroke="#111" stroke-width="0.22">INHIBITORY RECEPTOR</text>
<rect x="134.5" y="155.00" width="27.00" height="12.03" fill="#f16623"/>
<rect x="161.5" y="155.00" width="27.20" height="12.03" fill="#4056a8"/>
<text x="190.5" y="162.54" font-size="7.3" font-style="italic" fill="#111" stroke="#111" stroke-width="0.22">IL26</text>
<rect x="134.5" y="166.03" width="27.00" height="12.03" fill="#f16623"/>
<rect x="161.5" y="166.03" width="27.20" height="12.03" fill="#4056a8"/>
<text x="190.5" y="173.58" font-size="7.3" font-style="italic" fill="#111" stroke="#111" stroke-width="0.22">IL21</text>
<rect x="134.5" y="177.07" width="27.00" height="12.03" fill="#f16623"/>
<rect x="161.5" y="177.07" width="27.20" height="12.03" fill="#4056a8"/>
<text x="190.5" y="184.61" font-size="7.3" font-style="italic" fill="#111" stroke="#111" stroke-width="0.22">IL2</text>
<rect x="134.5" y="188.10" width="27.00" height="12.03" fill="#f16623"/>
<rect x="161.5" y="188.10" width="27.20" height="12.03" fill="#4056a8"/>
<text x="190.5" y="195.64" font-size="7.3" font-style="italic" fill="#111" stroke="#111" stroke-width="0.22">TGFB2</text>
<rect x="134.5" y="199.13" width="27.00" height="12.03" fill="#f26e2d"/>
<rect x="161.5" y="199.13" width="27.20" height="12.03" fill="#4459aa"/>
<text x="190.5" y="206.68" font-size="7.3" font-style="italic" fill="#111" stroke="#111" stroke-width="0.22">IL6</text>
<rect x="134.5" y="210.17" width="27.00" height="12.03" fill="#f9ba98"/>
<rect x="161.5" y="210.17" width="27.20" height="12.03" fill="#9396ce"/>
<text x="190.5" y="217.71" font-size="7.3" font-style="italic" fill="#111" stroke="#111" stroke-width="0.22">IFNG</text>
<rect x="134.5" y="221.20" width="27.00" height="12.03" fill="#f7ab82"/>
<rect x="161.5" y="221.20" width="27.20" height="12.03" fill="#747ec0"/>
<text x="190.5" y="228.74" font-size="7.3" font-style="italic" fill="#111" stroke="#111" stroke-width="0.22">TNF</text>
<rect x="134.5" y="232.23" width="27.00" height="12.03" fill="#f7ab82"/>
<rect x="161.5" y="232.23" width="27.20" height="12.03" fill="#747ec0"/>
<text x="190.5" y="239.78" font-size="7.3" font-style="italic" fill="#111" stroke="#111" stroke-width="0.22">PRF1</text>
<rect x="134.5" y="243.27" width="27.00" height="12.03" fill="#6a76bb"/>
<rect x="161.5" y="243.27" width="27.20" height="12.03" fill="#f7a378"/>
<text x="190.5" y="250.81" font-size="7.3" font-style="italic" fill="#111" stroke="#111" stroke-width="0.22">GZMB</text>
<rect x="134.5" y="254.30" width="27.00" height="12.03" fill="#a8a6d8"/>
<rect x="161.5" y="254.30" width="27.20" height="12.03" fill="#f9ba98"/>
<text x="190.5" y="261.84" font-size="7.3" font-style="italic" fill="#111" stroke="#111" stroke-width="0.22">IL15</text>
<rect x="134.5" y="265.33" width="27.00" height="12.03" fill="#4056a8"/>
<rect x="161.5" y="265.33" width="27.20" height="12.03" fill="#f26e2d"/>
<text x="190.5" y="272.88" font-size="7.3" font-style="italic" fill="#111" stroke="#111" stroke-width="0.22">LAMP1</text>
<rect x="134.5" y="276.37" width="27.00" height="11.03" fill="#4056a8"/>
<rect x="161.5" y="276.37" width="27.20" height="11.03" fill="#f26e2d"/>
<text x="190.5" y="283.91" font-size="7.3" font-style="italic" fill="#111" stroke="#111" stroke-width="0.22">IL18</text>
<rect x="225.70000000000002" y="158.4" width="1.2" height="128.99999999999997" fill="#1a1a1a"/>
<text transform="translate(236.6,218.89999999999998) rotate(-90)" font-size="7.4" text-anchor="middle" fill="#111" stroke="#111" stroke-width="0.22">CYTOKINES</text>
<text transform="translate(149.6,47) rotate(-71)" font-size="8.2" font-style="italic" fill="#000" stroke="#000" stroke-width="0.15">CD49a<tspan font-size="5.33" dy="-2.6">+</tspan><tspan dy="2.6"> NK</tspan></text>
<text transform="translate(179.1,47) rotate(-71)" font-size="8.2" font-style="italic" fill="#000" stroke="#000" stroke-width="0.15">CD49a<tspan font-size="5.33" dy="-2.6">−</tspan><tspan dy="2.6"> NK</tspan></text>
<rect x="261.8" y="49.60" width="28.20" height="12.66" fill="#cbcae8"/>
<rect x="290" y="49.60" width="28.00" height="12.66" fill="#fcd9c4"/>
<text x="320" y="58.33" font-size="7.3" font-style="italic" fill="#111" stroke="#111" stroke-width="0.22">ITGAL</text>
<rect x="261.8" y="61.26" width="28.20" height="12.66" fill="#dcdbef"/>
<rect x="290" y="61.26" width="28.00" height="12.66" fill="#fde8db"/>
<text x="320" y="70.06" font-size="7.3" font-style="italic" fill="#111" stroke="#111" stroke-width="0.22">CD226</text>
<rect x="261.8" y="72.92" width="28.20" height="12.66" fill="#b9b8e0"/>
<rect x="290" y="72.92" width="28.00" height="12.66" fill="#fbd1b9"/>
<text x="320" y="81.79" font-size="7.3" font-style="italic" fill="#111" stroke="#111" stroke-width="0.22">KLRC2</text>
<rect x="261.8" y="84.58" width="28.20" height="12.66" fill="#d4d2ec"/>
<rect x="290" y="84.58" width="28.00" height="12.66" fill="#fce0cf"/>
<text x="320" y="93.51" font-size="7.3" font-style="italic" fill="#111" stroke="#111" stroke-width="0.22">CD69</text>
<rect x="261.8" y="96.24" width="28.20" height="12.66" fill="#4056a8"/>
<rect x="290" y="96.24" width="28.00" height="12.66" fill="#f16623"/>
<text x="320" y="105.24" font-size="7.3" font-style="italic" fill="#111" stroke="#111" stroke-width="0.22">NCR1</text>
<rect x="261.8" y="107.90" width="28.20" height="12.66" fill="#4056a8"/>
<rect x="290" y="107.90" width="28.00" height="12.66" fill="#f16623"/>
<text x="320" y="116.97" font-size="7.3" font-style="italic" fill="#111" stroke="#111" stroke-width="0.22">NCR3</text>
<rect x="261.8" y="119.56" width="28.20" height="12.66" fill="#5f6eb6"/>
<rect x="290" y="119.56" width="28.00" height="12.66" fill="#f7a378"/>
<text x="320" y="128.70" font-size="7.3" font-style="italic" fill="#111" stroke="#111" stroke-width="0.22">SLAMF7</text>
<rect x="261.8" y="131.22" width="28.20" height="12.66" fill="#7e86c5"/>
<rect x="290" y="131.22" width="28.00" height="12.66" fill="#f9ba98"/>
<text x="320" y="140.43" font-size="7.3" font-style="italic" fill="#111" stroke="#111" stroke-width="0.22">KLRF1</text>
<rect x="261.8" y="142.88" width="28.20" height="12.66" fill="#4056a8"/>
<rect x="290" y="142.88" width="28.00" height="12.66" fill="#f26e2d"/>
<text x="320" y="152.16" font-size="7.3" font-style="italic" fill="#111" stroke="#111" stroke-width="0.22">NCR2</text>
<rect x="261.8" y="154.54" width="28.20" height="12.66" fill="#898eca"/>
<rect x="290" y="154.54" width="28.00" height="12.66" fill="#f9c2a3"/>
<text x="320" y="163.89" font-size="7.3" font-style="italic" fill="#111" stroke="#111" stroke-width="0.22">CD244</text>
<rect x="261.8" y="166.20" width="28.20" height="12.66" fill="#6a76bb"/>
<rect x="290" y="166.20" width="28.00" height="12.66" fill="#f7ab82"/>
<text x="320" y="175.61" font-size="7.3" font-style="italic" fill="#111" stroke="#111" stroke-width="0.22">FCGR3A</text>
<rect x="261.8" y="177.86" width="28.20" height="12.66" fill="#5f6eb6"/>
<rect x="290" y="177.86" width="28.00" height="12.66" fill="#f69c6d"/>
<text x="320" y="187.34" font-size="7.3" font-style="italic" fill="#111" stroke="#111" stroke-width="0.22">NKG7</text>
<rect x="261.8" y="189.52" width="28.20" height="12.66" fill="#6a76bb"/>
<rect x="290" y="189.52" width="28.00" height="12.66" fill="#f7ab82"/>
<text x="320" y="199.07" font-size="7.3" font-style="italic" fill="#111" stroke="#111" stroke-width="0.22">SLAMF6</text>
<rect x="261.8" y="201.18" width="28.20" height="12.66" fill="#6a76bb"/>
<rect x="290" y="201.18" width="28.00" height="12.66" fill="#f7ab82"/>
<text x="320" y="210.80" font-size="7.3" font-style="italic" fill="#111" stroke="#111" stroke-width="0.22">CD27</text>
<rect x="261.8" y="212.84" width="28.20" height="11.66" fill="#5f6eb6"/>
<rect x="290" y="212.84" width="28.00" height="11.66" fill="#f7a378"/>
<text x="320" y="222.53" font-size="7.3" font-style="italic" fill="#111" stroke="#111" stroke-width="0.22">ITGB7</text>
<rect x="351.4" y="51.8" width="1.2" height="172.2" fill="#1a1a1a"/>
<text transform="translate(362.0,138.70000000000002) rotate(-90)" font-size="7.55" text-anchor="middle" fill="#111" stroke="#111" stroke-width="0.22">ACTIVATING RECEPTOR</text>
<text transform="translate(279.6,48.5) rotate(-71)" font-size="8.2" font-style="italic" fill="#000" stroke="#000" stroke-width="0.15">CD49a<tspan font-size="5.33" dy="-2.6">+</tspan><tspan dy="2.6"> NK</tspan></text>
<text transform="translate(308.1,48.5) rotate(-71)" font-size="8.2" font-style="italic" fill="#000" stroke="#000" stroke-width="0.15">CD49a<tspan font-size="5.33" dy="-2.6">−</tspan><tspan dy="2.6"> NK</tspan></text>
<rect x="260.5" y="244.5" width="90.8" height="6.8" fill="url(#cb)"/>
<text x="260.5" y="262.2" font-size="7.5" stroke="#111" stroke-width="0.22">Low</text>
<text x="350.8" y="262.2" font-size="7.5" text-anchor="end" stroke="#111" stroke-width="0.22">High</text>
<text x="303.8" y="270.2" font-size="7.5" text-anchor="middle" stroke="#111" stroke-width="0.22">Expression (Log<tspan font-size="5" dy="1.5">2</tspan><tspan dy="-1.5">)</tspan></text>
<rect x="386.8" y="51.30" width="27.20" height="10.95" fill="#f16623"/>
<rect x="414" y="51.30" width="27.50" height="10.95" fill="#4056a8"/>
<text x="443.8" y="57.53" font-size="7.3" font-style="italic" fill="#111" stroke="#111" stroke-width="0.22">CCL13</text>
<rect x="386.8" y="61.25" width="27.20" height="10.95" fill="#f16623"/>
<rect x="414" y="61.25" width="27.50" height="10.95" fill="#4056a8"/>
<text x="443.8" y="67.55" font-size="7.3" font-style="italic" fill="#111" stroke="#111" stroke-width="0.22">CCR3</text>
<rect x="386.8" y="71.20" width="27.20" height="10.95" fill="#f16623"/>
<rect x="414" y="71.20" width="27.50" height="10.95" fill="#4056a8"/>
<text x="443.8" y="77.58" font-size="7.3" font-style="italic" fill="#111" stroke="#111" stroke-width="0.22">CCR2</text>
<rect x="386.8" y="81.14" width="27.20" height="10.95" fill="#f16623"/>
<rect x="414" y="81.14" width="27.50" height="10.95" fill="#4056a8"/>
<text x="443.8" y="87.60" font-size="7.3" font-style="italic" fill="#111" stroke="#111" stroke-width="0.22">CXCL17</text>
<rect x="386.8" y="91.09" width="27.20" height="10.95" fill="#f16623"/>
<rect x="414" y="91.09" width="27.50" height="10.95" fill="#4056a8"/>
<text x="443.8" y="97.63" font-size="7.3" font-style="italic" fill="#111" stroke="#111" stroke-width="0.22">CXCL13</text>
<rect x="386.8" y="101.04" width="27.20" height="10.95" fill="#f16623"/>
<rect x="414" y="101.04" width="27.50" height="10.95" fill="#4056a8"/>
<text x="443.8" y="107.65" font-size="7.3" font-style="italic" fill="#111" stroke="#111" stroke-width="0.22">CXCL11</text>
<rect x="386.8" y="110.99" width="27.20" height="10.95" fill="#f16623"/>
<rect x="414" y="110.99" width="27.50" height="10.95" fill="#4056a8"/>
<text x="443.8" y="117.68" font-size="7.3" font-style="italic" fill="#111" stroke="#111" stroke-width="0.22">CXCL6</text>
<rect x="386.8" y="120.94" width="27.20" height="10.95" fill="#f16623"/>
<rect x="414" y="120.94" width="27.50" height="10.95" fill="#4056a8"/>
<text x="443.8" y="127.70" font-size="7.3" font-style="italic" fill="#111" stroke="#111" stroke-width="0.22">CCR2</text>
<rect x="386.8" y="130.88" width="27.20" height="10.95" fill="#f7ab82"/>
<rect x="414" y="130.88" width="27.50" height="10.95" fill="#747ec0"/>
<text x="443.8" y="137.73" font-size="7.3" font-style="italic" fill="#111" stroke="#111" stroke-width="0.22">CXCL12</text>
<rect x="386.8" y="140.83" width="27.20" height="10.95" fill="#f69c6d"/>
<rect x="414" y="140.83" width="27.50" height="10.95" fill="#6a76bb"/>
<text x="443.8" y="147.75" font-size="7.3" font-style="italic" fill="#111" stroke="#111" stroke-width="0.22">CCL24</text>
<rect x="386.8" y="150.78" width="27.20" height="10.95" fill="#f48c58"/>
<rect x="414" y="150.78" width="27.50" height="10.95" fill="#5f6eb6"/>
<text x="443.8" y="157.78" font-size="7.3" font-style="italic" fill="#111" stroke="#111" stroke-width="0.22">CXCR6</text>
<rect x="386.8" y="160.73" width="27.20" height="10.95" fill="#f16927"/>
<rect x="414" y="160.73" width="27.50" height="10.95" fill="#4459aa"/>
<text x="443.8" y="167.80" font-size="7.3" font-style="italic" fill="#111" stroke="#111" stroke-width="0.22">CCL26</text>
<rect x="386.8" y="170.68" width="27.20" height="10.95" fill="#f16927"/>
<rect x="414" y="170.68" width="27.50" height="10.95" fill="#4056a8"/>
<text x="443.8" y="177.83" font-size="7.3" font-style="italic" fill="#111" stroke="#111" stroke-width="0.22">CXCL9</text>
<rect x="386.8" y="180.62" width="27.20" height="10.95" fill="#f69c6d"/>
<rect x="414" y="180.62" width="27.50" height="10.95" fill="#6a76bb"/>
<text x="443.8" y="187.85" font-size="7.3" font-style="italic" fill="#111" stroke="#111" stroke-width="0.22">CXCL8</text>
<rect x="386.8" y="190.57" width="27.20" height="10.95" fill="#f48c58"/>
<rect x="414" y="190.57" width="27.50" height="10.95" fill="#5f6eb6"/>
<text x="443.8" y="197.88" font-size="7.3" font-style="italic" fill="#111" stroke="#111" stroke-width="0.22">CCL15</text>
<rect x="386.8" y="200.52" width="27.20" height="10.95" fill="#f37d42"/>
<rect x="414" y="200.52" width="27.50" height="10.95" fill="#5566b2"/>
<text x="443.8" y="207.90" font-size="7.3" font-style="italic" fill="#111" stroke="#111" stroke-width="0.22">CXCL10</text>
<rect x="386.8" y="210.47" width="27.20" height="10.95" fill="#f4854d"/>
<rect x="414" y="210.47" width="27.50" height="10.95" fill="#5566b2"/>
<text x="443.8" y="217.93" font-size="7.3" font-style="italic" fill="#111" stroke="#111" stroke-width="0.22">CCL16</text>
<rect x="386.8" y="220.42" width="27.20" height="10.95" fill="#f7a378"/>
<rect x="414" y="220.42" width="27.50" height="10.95" fill="#6e79bd"/>
<text x="443.8" y="227.95" font-size="7.3" font-style="italic" fill="#111" stroke="#111" stroke-width="0.22">CXCL3</text>
<rect x="386.8" y="230.36" width="27.20" height="10.95" fill="#f26e2d"/>
<rect x="414" y="230.36" width="27.50" height="10.95" fill="#4056a8"/>
<text x="443.8" y="237.98" font-size="7.3" font-style="italic" fill="#111" stroke="#111" stroke-width="0.22">CXCL12</text>
<rect x="386.8" y="240.31" width="27.20" height="10.95" fill="#f26e2d"/>
<rect x="414" y="240.31" width="27.50" height="10.95" fill="#4056a8"/>
<text x="443.8" y="248.00" font-size="7.3" font-style="italic" fill="#111" stroke="#111" stroke-width="0.22">CCL8</text>
<rect x="386.8" y="250.26" width="27.20" height="10.95" fill="#f59462"/>
<rect x="414" y="250.26" width="27.50" height="10.95" fill="#5f6eb6"/>
<text x="443.8" y="258.03" font-size="7.3" font-style="italic" fill="#111" stroke="#111" stroke-width="0.22">CCL21</text>
<rect x="386.8" y="260.21" width="27.20" height="10.95" fill="#f59462"/>
<rect x="414" y="260.21" width="27.50" height="10.95" fill="#5f6eb6"/>
<text x="443.8" y="268.05" font-size="7.3" font-style="italic" fill="#111" stroke="#111" stroke-width="0.22">CCL7</text>
<rect x="386.8" y="270.16" width="27.20" height="10.95" fill="#f16927"/>
<rect x="414" y="270.16" width="27.50" height="10.95" fill="#4056a8"/>
<text x="443.8" y="278.08" font-size="7.3" font-style="italic" fill="#111" stroke="#111" stroke-width="0.22">CCL1</text>
<rect x="386.8" y="280.10" width="27.20" height="10.95" fill="#f7ab82"/>
<rect x="414" y="280.10" width="27.50" height="10.95" fill="#747ec0"/>
<text x="443.8" y="288.10" font-size="7.3" font-style="italic" fill="#111" stroke="#111" stroke-width="0.22">CCL28</text>
<rect x="386.8" y="290.05" width="27.20" height="9.95" fill="#f27538"/>
<rect x="414" y="290.05" width="27.50" height="9.95" fill="#4459aa"/>
<text x="443.8" y="298.13" font-size="7.3" font-style="italic" fill="#111" stroke="#111" stroke-width="0.22">CCL2</text>
<rect x="474.4" y="53" width="1.2" height="245.2" fill="#1a1a1a"/>
<text transform="translate(484.3,178.6) rotate(-90)" font-size="7.4" text-anchor="middle" fill="#111" stroke="#111" stroke-width="0.22">CHEMOTAXIS</text>
<text transform="translate(402.5,50.2) rotate(-71)" font-size="8.2" font-style="italic" fill="#000" stroke="#000" stroke-width="0.15">CD49a<tspan font-size="5.33" dy="-2.6">+</tspan><tspan dy="2.6"> NK</tspan></text>
<text transform="translate(431.5,50.2) rotate(-71)" font-size="8.2" font-style="italic" fill="#000" stroke="#000" stroke-width="0.15">CD49a<tspan font-size="5.33" dy="-2.6">−</tspan><tspan dy="2.6"> NK</tspan></text>
<clipPath id="bclip"><rect x="30.3" y="360.5" width="177.0" height="115.5"/></clipPath>
<g clip-path="url(#bclip)">
<polygon fill="#4656c0" points="36.7,466.6 36.7,431.7 37.8,431.2 38.9,430.0 40.1,431.0 41.2,430.6 42.3,430.2 43.4,430.9 44.5,429.9 45.6,429.3 46.8,428.7 47.9,430.2 49.0,429.4 50.1,429.7 51.2,427.7 52.3,427.7 53.4,429.1 54.6,426.5 55.7,426.3 56.8,426.8 57.9,426.7 59.0,427.6 60.1,427.7 61.2,426.2 62.4,427.1 63.5,426.5 64.6,426.2 65.7,426.5 66.8,425.1 67.9,424.9 69.0,423.7 70.2,424.2 71.3,423.7 72.4,423.8 73.5,423.2 74.6,423.4 75.7,423.6 76.9,421.6 78.0,421.3 79.1,421.5 80.2,421.6 81.3,422.3 82.4,422.3 83.5,421.9 84.7,422.2 85.8,420.2 86.9,420.9 88.0,419.5 89.1,420.4 90.2,418.8 91.3,418.8 92.5,420.7 93.6,419.9 94.7,417.9 95.8,418.8 96.9,417.2 98.0,418.5 99.1,419.0 100.3,417.4 101.4,416.8 102.5,417.8 103.6,418.0 104.7,417.2 105.8,415.3 106.9,415.6 108.1,417.0 109.2,416.4 110.3,416.5 111.4,416.4 112.5,414.3 113.6,415.6 114.8,414.4 115.9,414.4 117.0,414.8 118.1,413.2 119.2,414.5 120.3,413.0 121.4,414.1 122.6,413.0 123.7,413.3 124.8,412.9 125.9,410.9 127.0,411.1 128.1,412.1 129.8,407.2 126.1,408.4"/>
<circle cx="134.0" cy="402.2" r="0.55" fill="#4656c0"/>
<circle cx="130.7" cy="402.8" r="0.55" fill="#4656c0"/>
<circle cx="107.6" cy="411.5" r="0.55" fill="#4656c0"/>
<circle cx="61.0" cy="423.1" r="0.55" fill="#4656c0"/>
<circle cx="65.9" cy="425.5" r="0.55" fill="#4656c0"/>
<circle cx="70.0" cy="423.0" r="0.55" fill="#4656c0"/>
<circle cx="45.8" cy="427.8" r="0.55" fill="#4656c0"/>
<circle cx="64.2" cy="424.6" r="0.55" fill="#4656c0"/>
<circle cx="103.2" cy="416.0" r="0.55" fill="#4656c0"/>
<circle cx="142.1" cy="395.8" r="0.55" fill="#4656c0"/>
<circle cx="90.4" cy="416.6" r="0.55" fill="#4656c0"/>
<circle cx="57.7" cy="425.7" r="0.55" fill="#4656c0"/>
<circle cx="54.6" cy="425.0" r="0.55" fill="#4656c0"/>
<circle cx="65.0" cy="423.9" r="0.55" fill="#4656c0"/>
<circle cx="58.5" cy="427.1" r="0.55" fill="#4656c0"/>
<circle cx="59.2" cy="422.3" r="0.55" fill="#4656c0"/>
<circle cx="141.1" cy="396.0" r="0.55" fill="#4656c0"/>
<circle cx="83.6" cy="420.0" r="0.55" fill="#4656c0"/>
<circle cx="49.1" cy="424.2" r="0.55" fill="#4656c0"/>
<circle cx="63.7" cy="424.9" r="0.55" fill="#4656c0"/>
<circle cx="114.4" cy="415.0" r="0.55" fill="#4656c0"/>
<circle cx="102.7" cy="413.8" r="0.55" fill="#4656c0"/>
<circle cx="69.7" cy="423.4" r="0.55" fill="#4656c0"/>
<circle cx="45.3" cy="427.3" r="0.55" fill="#4656c0"/>
<circle cx="62.7" cy="422.6" r="0.55" fill="#4656c0"/>
<circle cx="104.6" cy="415.8" r="0.55" fill="#4656c0"/>
<circle cx="68.3" cy="424.0" r="0.55" fill="#4656c0"/>
<circle cx="39.6" cy="430.8" r="0.55" fill="#4656c0"/>
<circle cx="67.1" cy="424.8" r="0.55" fill="#4656c0"/>
<circle cx="57.0" cy="427.5" r="0.55" fill="#4656c0"/>
<circle cx="77.9" cy="422.1" r="0.55" fill="#4656c0"/>
<circle cx="77.2" cy="422.8" r="0.55" fill="#4656c0"/>
<circle cx="134.7" cy="399.2" r="0.55" fill="#4656c0"/>
<circle cx="113.0" cy="415.1" r="0.55" fill="#4656c0"/>
<circle cx="101.4" cy="417.7" r="0.55" fill="#4656c0"/>
<circle cx="39.8" cy="431.0" r="0.55" fill="#4656c0"/>
<circle cx="136.8" cy="399.3" r="0.55" fill="#4656c0"/>
<circle cx="40.1" cy="426.3" r="0.55" fill="#4656c0"/>
<circle cx="107.0" cy="413.4" r="0.55" fill="#4656c0"/>
<circle cx="72.5" cy="423.9" r="0.55" fill="#4656c0"/>
<circle cx="146.5" cy="392.3" r="0.55" fill="#4656c0"/>
<circle cx="117.9" cy="413.2" r="0.55" fill="#4656c0"/>
<circle cx="135.7" cy="401.3" r="0.55" fill="#4656c0"/>
<circle cx="124.1" cy="409.8" r="0.55" fill="#4656c0"/>
<circle cx="137.3" cy="398.7" r="0.55" fill="#4656c0"/>
<circle cx="135.7" cy="399.0" r="0.55" fill="#4656c0"/>
<circle cx="132.5" cy="400.4" r="0.55" fill="#4656c0"/>
<circle cx="131.7" cy="402.3" r="0.55" fill="#4656c0"/>
<circle cx="100.1" cy="416.8" r="0.55" fill="#4656c0"/>
<circle cx="101.2" cy="416.6" r="0.55" fill="#4656c0"/>
<circle cx="104.0" cy="414.8" r="0.55" fill="#4656c0"/>
<circle cx="145.8" cy="393.6" r="0.55" fill="#4656c0"/>
<circle cx="133.5" cy="402.8" r="0.55" fill="#4656c0"/>
<circle cx="117.7" cy="412.4" r="0.55" fill="#4656c0"/>
<circle cx="101.0" cy="414.4" r="0.55" fill="#4656c0"/>
<circle cx="46.9" cy="428.4" r="0.55" fill="#4656c0"/>
<circle cx="119.4" cy="411.3" r="0.55" fill="#4656c0"/>
<circle cx="90.1" cy="419.9" r="0.55" fill="#4656c0"/>
<circle cx="62.9" cy="425.6" r="0.55" fill="#4656c0"/>
<circle cx="104.6" cy="415.0" r="0.55" fill="#4656c0"/>
<polygon fill="#f98b25" points="36.9,470.2 36.9,469.9 86.1,445.0 126.1,419.2 114.0,431.8 101.0,445.6 93.6,456.4 89.9,464.2 115.9,464.8 116.8,469.7 114.0,470.2"/>
<path d="M136.7 455.6h0M103.3 445.5h0M96.2 441.2h0M110.9 433.2h0M102.0 464.4h0M91.1 469.6h0M89.3 450.8h0M103.7 441.1h0M94.4 456.3h0M89.6 452.9h0M112.7 462.8h0M112.5 439.9h0M91.8 443.0h0M113.3 469.3h0M90.5 447.6h0M105.1 440.5h0M113.6 429.2h0M99.0 452.5h0M88.6 444.0h0M113.5 440.5h0M94.0 446.4h0M92.7 448.5h0M104.0 436.0h0M100.0 445.3h0M92.3 445.7h0M124.0 469.6h0M90.9 467.4h0M95.0 464.7h0M112.0 438.0h0M96.0 454.0h0M108.9 434.2h0M108.9 441.2h0M105.5 452.5h0M99.6 437.9h0M89.8 465.0h0M117.7 424.6h0M95.7 455.4h0M113.8 443.8h0M125.7 455.3h0M100.3 469.0h0M89.9 455.6h0M93.2 443.4h0M100.5 436.1h0M134.4 468.2h0M92.6 454.3h0M91.7 450.6h0M132.3 466.4h0M107.0 466.7h0M91.3 468.1h0M128.9 466.4h0M122.7 466.5h0M106.8 465.9h0M88.3 456.5h0M117.6 425.9h0M130.4 467.0h0M129.5 466.0h0M126.8 423.7h0M127.0 418.8h0M102.8 435.0h0M103.7 466.2h0M89.0 467.5h0M102.2 464.3h0M89.7 443.8h0M101.9 434.9h0M99.9 470.1h0M101.4 451.4h0M101.6 444.9h0M118.7 430.4h0M92.0 446.1h0M87.7 460.4h0M87.6 444.0h0M98.2 449.8h0M104.8 434.7h0M92.0 466.3h0M108.7 436.7h0M91.9 463.8h0M93.8 458.0h0M87.9 459.7h0M119.9 469.6h0M105.5 445.6h0M106.1 451.1h0M106.5 452.5h0M97.1 452.5h0M88.8 465.5h0M119.0 432.7h0M97.8 454.9h0M105.0 446.1h0M119.0 467.2h0M89.9 450.9h0M99.8 468.1h0M109.8 437.4h0M92.4 446.9h0M116.0 427.6h0M90.4 444.9h0M89.5 469.6h0M103.0 436.7h0M97.6 442.7h0M97.4 441.4h0M92.8 448.7h0M111.1 467.2h0M103.6 444.1h0M103.3 436.3h0M102.0 447.4h0M115.7 468.5h0M88.9 457.8h0M107.8 433.5h0M96.4 445.2h0M99.8 453.6h0M118.3 447.3h0M88.0 457.1h0M91.0 444.3h0M116.3 434.6h0M94.9 460.7h0M101.3 449.5h0M129.5 467.2h0M89.3 456.9h0M127.2 468.4h0M103.1 454.9h0M88.9 443.0h0M108.8 444.2h0M108.2 436.7h0M97.0 452.5h0M123.7 427.3h0M107.7 467.6h0M106.6 459.8h0M106.5 464.5h0M135.9 469.3h0M107.8 467.2h0M104.6 441.4h0M90.0 459.3h0M89.3 466.3h0M88.8 461.9h0M116.4 464.3h0M105.7 462.2h0M88.4 453.3h0M123.2 424.8h0M91.9 457.9h0M90.3 459.6h0M124.8 469.3h0M106.7 468.0h0M90.0 456.5h0M88.3 461.1h0M101.9 440.6h0M107.6 434.4h0M94.4 454.7h0M106.5 432.5h0M99.7 470.5h0M95.7 450.6h0M114.8 464.9h0M90.8 467.6h0M133.9 467.5h0M107.4 444.0h0M97.0 470.0h0M89.7 450.5h0M88.5 455.7h0M92.8 442.4h0M113.4 465.3h0M88.1 455.2h0M89.8 468.7h0M103.7 467.6h0M113.1 427.4h0M102.0 436.7h0M126.1 461.4h0M96.2 466.7h0M106.4 441.2h0M114.8 470.0h0M138.8 469.8h0M128.4 418.1h0M100.6 438.6h0M102.1 437.8h0M98.5 445.4h0M87.6 457.1h0M98.1 441.0h0M110.2 430.7h0M109.1 441.8h0M107.4 445.0h0M93.2 445.1h0M117.9 446.6h0M119.1 426.6h0M112.3 428.1h0M108.7 435.5h0M91.0 454.4h0M106.8 466.6h0M105.7 437.3h0M93.4 465.0h0M90.9 441.9h0M97.7 448.3h0M87.9 461.4h0M93.3 441.9h0M103.8 455.3h0M99.7 450.5h0M111.2 467.8h0M100.3 456.1h0M135.4 465.4h0M88.3 453.3h0M108.7 444.0h0M91.6 465.6h0M93.5 456.2h0M88.4 460.9h0M115.8 465.5h0M103.3 451.8h0M117.7 464.5h0M100.4 456.0h0M111.8 434.4h0M87.6 466.4h0M115.7 469.2h0M103.3 434.9h0M132.7 467.9h0M91.3 462.9h0M111.4 468.4h0M90.4 455.4h0M99.5 444.7h0M87.6 459.6h0M87.5 454.7h0M127.7 467.7h0M110.0 435.1h0M102.5 445.8h0M104.2 439.8h0M89.7 453.0h0M87.4 450.9h0M91.1 447.8h0M110.6 465.6h0M126.7 466.8h0M93.2 466.9h0M112.5 469.2h0M96.0 451.6h0M104.7 444.1h0M101.1 444.6h0M100.9 468.2h0M99.5 444.6h0M103.6 439.1h0M128.3 427.8h0M115.9 443.0h0M100.5 469.8h0M94.2 455.5h0M90.0 444.0h0M99.6 437.7h0M93.5 440.3h0M90.7 469.6h0M91.3 456.3h0M88.2 457.2h0M137.4 465.4h0M138.8 468.6h0M133.9 416.3h0M88.8 447.7h0M130.6 470.5h0M87.9 449.8h0M91.3 448.3h0M131.2 469.7h0M107.6 467.9h0M90.9 465.2h0M89.7 461.9h0M138.1 465.7h0M88.4 449.7h0M89.9 465.9h0M126.7 459.5h0M98.9 443.3h0M87.9 462.3h0M106.3 436.2h0M105.0 435.8h0M102.6 464.3h0M99.7 450.3h0M113.9 430.2h0M107.5 470.4h0M112.0 466.7h0M102.2 454.5h0M102.7 439.8h0M96.6 444.0h0M100.2 438.4h0M93.0 440.8h0M93.8 448.1h0M106.1 469.6h0M102.7 435.7h0M89.0 446.7h0M112.6 438.6h0M97.8 451.1h0M104.7 467.9h0M116.2 425.4h0M97.3 445.2h0M95.2 453.1h0M90.1 468.5h0M94.0 468.8h0M88.0 468.5h0M104.1 433.7h0M116.1 426.2h0M125.4 469.6h0M97.7 440.2h0M116.4 425.7h0M102.6 441.1h0M94.9 451.4h0M115.6 426.1h0M88.4 460.3h0M93.4 467.9h0M119.9 423.5h0M99.1 449.3h0M99.4 445.8h0M116.3 444.1h0M119.4 429.7h0M92.6 469.9h0M101.1 469.9h0M103.9 437.5h0M99.1 469.7h0M88.8 448.6h0M100.4 436.5h0M114.9 426.5h0M108.1 444.9h0M117.4 427.3h0M121.1 469.6h0M101.2 441.6h0M127.9 467.5h0M88.7 466.0h0M120.2 425.8h0M100.7 445.3h0M113.7 428.3h0M102.1 437.4h0M90.6 465.1h0M102.7 439.7h0M90.2 456.5h0M115.7 468.3h0M97.3 446.6h0M133.7 468.6h0M89.9 447.2h0M95.8 469.3h0M89.6 446.8h0M136.4 468.3h0M102.5 463.6h0M97.9 449.1h0M96.2 453.2h0M95.1 452.5h0M108.0 451.6h0M87.6 446.8h0M89.3 462.6h0M90.4 452.5h0M104.5 447.7h0M97.3 442.5h0M117.1 455.0h0M87.1 470.4h0M101.9 434.8h0M90.6 450.0h0M112.0 441.4h0M129.2 418.6h0M120.3 462.7h0M90.2 467.7h0M116.6 431.6h0M93.2 451.0h0M99.4 469.5h0M90.5 455.3h0M93.6 450.0h0M102.5 442.3h0M112.3 470.0h0M114.6 467.9h0M89.6 459.3h0M134.9 458.3h0M94.4 442.8h0M90.5 451.2h0M111.1 445.1h0M129.1 464.7h0M91.0 443.8h0M114.2 464.4h0M112.0 465.5h0M96.2 443.8h0M96.6 438.8h0M94.0 448.8h0M106.0 437.8h0M92.5 446.6h0M103.4 456.5h0M99.2 440.4h0M88.7 453.0h0M91.2 447.5h0M87.9 458.3h0M104.3 469.2h0M106.1 432.9h0M93.9 445.6h0M117.1 466.0h0M129.6 426.1h0M94.9 469.0h0M130.4 470.4h0M92.1 444.3h0M101.5 443.1h0M98.0 455.0h0M123.5 465.2h0M87.2 444.3h0M107.5 464.2h0M93.6 465.5h0M93.9 459.6h0M94.9 469.1h0M106.4 469.2h0M110.0 431.7h0M88.7 461.8h0M103.8 465.4h0M92.7 470.0h0M91.6 465.0h0M97.9 443.6h0M105.4 461.8h0M89.8 458.9h0M88.0 452.3h0M89.9 462.1h0M93.3 469.6h0M88.1 446.7h0M111.0 448.5h0M92.5 447.0h0M89.9 449.3h0M119.3 427.6h0M95.9 452.4h0M103.6 437.7h0M125.3 433.1h0M105.9 432.3h0M88.1 468.0h0M126.4 426.9h0M95.0 439.9h0M89.4 468.8h0M90.7 444.6h0M92.9 470.4h0M106.2 457.4h0M120.1 453.2h0M108.4 470.0h0M106.0 432.2h0M101.9 445.7h0M103.5 455.9h0M105.4 433.2h0M115.7 460.3h0M103.3 437.5h0M115.9 467.6h0M102.4 440.9h0M127.0 467.6h0M91.1 467.6h0M93.9 448.4h0M87.1 449.5h0M111.1 469.3h0M105.9 440.8h0M90.4 465.8h0M95.0 469.6h0M104.0 439.6h0M92.6 469.6h0M116.2 468.2h0M136.1 466.6h0M89.3 446.0h0M91.5 460.1h0M92.3 454.6h0M110.9 436.8h0M91.9 450.0h0M89.8 467.1h0M137.8 458.2h0M93.9 467.9h0M94.8 455.1h0M105.7 468.3h0M112.6 428.2h0M101.7 448.4h0M94.9 452.6h0M111.9 467.1h0M111.7 451.8h0M94.9 456.1h0M93.5 468.1h0M94.5 444.7h0M102.0 440.3h0M121.9 439.6h0M89.6 454.8h0M87.9 469.7h0M134.0 461.8h0M101.0 439.7h0M103.8 466.3h0M88.6 460.5h0M129.6 465.9h0M91.4 455.2h0M112.1 441.2h0M91.8 470.0h0M96.6 447.3h0M114.9 426.2h0M110.8 434.2h0M116.6 431.1h0M100.9 440.1h0M117.3 426.9h0M92.0 441.2h0M89.9 447.4h0M88.7 465.7h0M132.5 469.4h0M87.8 469.1h0M113.5 428.4h0M112.9 465.8h0M92.0 463.4h0M91.6 451.6h0M88.9 468.2h0M111.1 464.3h0M92.7 466.6h0M97.0 452.1h0M108.2 439.6h0M116.8 465.7h0M112.9 438.7h0M121.0 464.8h0M93.9 469.7h0M126.6 436.1h0M128.4 466.9h0M115.4 462.2h0M115.1 454.3h0M94.5 442.4h0M129.7 455.4h0M134.5 466.6h0M94.7 462.5h0M109.7 432.1h0M117.7 430.2h0M95.1 462.5h0M88.5 456.1h0M108.8 434.0h0M105.8 438.0h0M95.7 457.7h0M110.1 430.3h0M90.8 460.0h0M91.1 458.2h0M109.3 431.5h0M123.2 423.7h0M89.8 465.5h0M96.9 461.1h0M88.5 456.2h0M95.7 467.5h0M91.3 466.4h0M103.1 441.7h0M115.3 453.8h0M95.4 468.1h0M96.3 449.7h0M123.6 468.4h0M93.1 447.4h0M102.5 442.1h0M102.7 456.2h0M116.1 439.7h0M115.4 468.0h0M108.4 440.2h0M97.7 444.1h0M89.1 453.4h0M96.0 461.9h0M96.1 469.2h0M93.4 447.8h0M93.1 469.3h0M91.5 446.0h0M87.6 465.9h0M138.6 468.4h0M91.2 445.7h0M101.7 438.4h0M105.7 469.4h0M120.5 424.5h0M116.8 455.9h0M129.4 467.1h0M98.1 470.0h0M89.8 469.7h0M119.6 444.8h0M99.1 465.2h0M101.9 448.6h0M94.0 465.0h0M104.3 468.5h0M134.0 453.6h0M111.5 429.7h0M112.6 442.7h0M91.3 468.2h0M115.7 466.4h0M91.5 457.9h0M93.5 467.3h0M131.2 466.3h0M106.1 434.4h0M97.7 455.3h0M114.8 467.4h0M89.9 446.8h0M92.2 443.4h0M109.2 467.5h0M98.9 449.9h0M88.6 451.5h0M99.9 467.6h0M120.7 470.2h0M106.5 458.5h0M100.2 469.9h0M106.0 441.9h0M96.4 456.9h0M121.3 470.4h0M112.4 465.7h0M114.4 426.9h0M130.5 416.2h0M135.2 417.4h0M92.1 451.9h0M92.5 465.3h0M91.7 450.3h0M88.3 446.7h0M137.7 466.9h0M121.6 424.1h0M117.5 440.1h0M92.0 467.8h0M91.1 451.8h0M121.2 426.0h0M91.7 454.0h0M124.7 452.5h0M115.1 468.0h0M94.0 454.1h0M122.3 424.9h0M109.7 436.2h0M91.6 457.2h0M118.1 468.6h0M124.1 425.9h0M88.0 469.8h0M110.2 470.2h0M94.0 443.5h0M93.1 457.2h0M100.3 435.7h0M89.7 455.2h0M100.1 436.2h0M88.3 445.0h0M108.3 436.3h0M105.9 458.1h0M101.2 443.0h0M100.8 444.0h0M131.0 422.1h0M129.2 419.8h0M88.2 446.3h0M121.1 427.7h0M126.8 465.8h0M113.4 465.9h0M107.2 460.9h0M89.7 451.2h0M135.9 467.3h0M105.6 442.5h0M120.6 465.6h0M89.1 455.6h0M99.6 467.0h0M105.5 467.0h0M121.0 426.5h0M98.2 467.1h0M122.4 469.1h0M124.5 466.1h0M114.4 426.9h0M114.6 469.7h0M88.8 467.3h0M91.2 467.0h0M97.9 441.1h0M113.1 430.2h0M87.4 445.5h0M132.8 469.8h0M88.7 451.1h0M97.3 442.4h0M95.9 465.5h0M98.7 442.2h0M93.6 449.1h0M99.6 441.3h0M88.1 450.9h0M90.6 446.4h0M130.3 468.6h0M99.5 442.4h0M88.3 460.2h0M122.6 467.0h0M114.1 428.7h0M96.7 452.0h0M93.9 459.0h0M96.7 448.3h0M123.6 440.9h0M93.2 448.3h0M88.3 457.9h0M102.7 464.5h0M109.6 433.4h0M96.7 441.1h0M106.5 441.5h0M92.2 455.4h0M112.4 443.1h0M99.7 437.3h0M100.3 437.8h0M124.7 467.2h0M104.6 434.6h0M132.3 468.9h0M94.1 457.2h0M113.7 432.6h0M93.1 443.2h0M89.1 456.6h0M128.3 418.4h0M103.0 451.5h0M103.9 469.9h0M106.1 436.3h0M87.9 461.6h0M100.8 443.3h0M94.3 448.6h0M90.6 470.0h0M121.5 467.0h0M101.1 439.0h0M101.3 467.8h0M88.5 452.3h0M103.5 436.4h0M90.1 445.5h0M101.3 447.6h0M101.2 457.1h0M104.4 435.8h0M98.4 445.8h0M88.7 456.0h0M133.3 440.3h0M108.4 470.1h0M134.9 429.4h0M100.3 445.0h0M107.3 433.7h0M95.3 449.9h0M111.1 465.4h0M105.5 447.1h0M94.1 450.0h0M91.5 469.4h0M88.0 459.1h0M92.2 445.8h0M100.3 449.2h0M87.9 467.0h0M125.8 419.4h0M107.6 430.9h0M112.6 438.4h0M115.2 436.9h0M111.9 435.1h0M124.1 424.5h0M94.9 444.0h0M118.4 467.6h0M96.7 439.9h0M106.3 469.1h0M100.8 439.2h0M123.0 448.8h0M128.6 420.7h0M98.2 445.2h0M116.0 464.5h0M111.0 430.7h0M93.3 442.8h0M104.4 458.1h0M89.6 456.0h0M90.3 469.4h0M94.0 465.1h0M95.2 443.6h0M112.9 436.7h0M114.1 468.7h0M97.7 442.5h0M88.2 450.3h0M101.7 437.4h0M95.3 457.4h0M88.8 463.3h0M94.8 447.3h0M95.3 450.6h0M90.8 445.8h0M88.1 460.9h0M98.9 442.2h0M132.1 435.1h0M90.5 446.7h0M101.6 437.3h0M92.8 443.8h0M98.4 447.5h0M96.4 444.6h0M112.1 428.5h0M100.5 468.9h0M101.5 464.5h0M124.0 465.2h0M91.2 450.4h0M93.1 457.3h0M98.4 444.1h0M89.5 454.7h0M103.2 464.5h0M89.1 448.7h0M116.7 467.3h0M128.2 469.6h0M88.1 469.9h0M122.9 423.0h0M123.1 437.0h0M90.2 452.8h0M125.7 452.0h0M119.1 423.8h0M98.3 469.9h0M97.6 447.3h0M93.6 445.8h0M90.5 450.7h0M89.8 465.5h0M91.5 445.9h0M98.9 446.4h0M104.9 440.7h0M130.5 469.2h0M95.2 462.9h0M101.6 466.5h0M94.1 440.0h0M129.3 468.2h0M117.8 438.0h0M109.6 466.1h0M90.3 468.9h0M103.7 451.4h0M107.9 465.9h0M90.4 447.3h0M110.2 433.2h0M115.1 440.6h0M97.7 464.3h0M115.8 430.3h0M88.7 443.1h0M87.9 447.2h0M108.6 443.9h0M127.0 421.6h0M103.2 455.2h0M92.1 454.2h0M99.6 442.7h0M136.7 413.8h0M127.0 469.2h0M100.9 465.9h0M99.6 442.5h0M118.9 466.9h0M113.9 429.8h0M108.1 444.5h0M99.1 448.3h0M115.0 426.8h0M110.1 467.5h0M111.6 431.5h0M102.3 470.4h0M87.1 467.3h0M114.4 467.1h0M94.1 452.6h0M140.0 416.4h0M108.6 467.0h0M94.1 451.8h0M93.6 441.3h0M90.1 445.0h0M102.2 434.8h0M97.3 442.4h0M97.7 452.9h0M107.8 469.5h0M91.1 462.1h0M88.9 454.9h0M133.9 467.0h0M113.9 469.2h0M91.2 446.3h0M89.2 449.9h0M88.5 464.5h0M92.8 450.2h0M88.7 448.7h0M95.5 442.6h0M97.8 440.1h0M96.2 444.5h0M109.2 469.9h0M91.9 469.0h0M104.6 448.1h0M98.2 445.9h0M87.5 466.3h0M115.7 432.9h0M93.0 455.3h0M87.6 447.2h0M111.4 429.0h0M136.5 414.0h0M128.6 464.5h0M108.4 464.4h0M90.5 444.0h0M107.1 437.0h0M136.2 469.3h0M105.9 469.6h0M87.4 462.0h0M93.2 467.5h0M91.5 443.1h0M106.9 468.0h0M97.3 468.0h0M95.7 455.1h0M100.8 469.9h0M88.7 465.3h0M116.4 457.8h0M114.4 427.6h0M128.0 437.6h0M116.6 425.5h0M103.1 437.2h0M103.8 447.9h0M97.1 451.8h0M110.9 466.7h0M101.8 469.9h0M110.5 467.1h0M104.7 465.5h0M118.5 466.7h0M102.2 434.5h0M112.1 466.8h0M91.7 446.1h0M99.8 469.0h0M111.9 467.1h0M95.2 442.6h0M105.2 433.6h0M113.7 466.6h0M89.4 457.3h0M110.6 465.5h0M107.4 456.0h0M96.7 439.9h0M110.5 446.0h0M95.2 443.2h0M104.3 438.2h0M102.2 435.0h0M91.0 469.1h0M104.5 469.1h0M111.2 436.0h0M121.9 423.7h0M104.7 441.8h0M93.6 464.0h0M95.1 459.3h0M100.3 460.8h0M104.5 465.7h0M132.2 461.1h0M88.0 450.2h0M97.7 465.7h0M94.2 470.2h0M104.8 434.2h0M95.6 468.7h0M118.2 426.0h0M98.1 438.0h0M93.9 454.5h0M99.5 446.2h0M107.0 431.9h0M92.2 456.5h0M129.9 466.3h0M87.1 455.1h0M138.8 469.5h0M115.4 431.4h0M87.9 444.4h0M100.3 449.5h0M114.9 463.8h0M97.2 449.9h0M87.7 449.6h0M95.5 463.7h0M96.7 457.4h0M103.1 468.9h0M93.6 456.1h0M91.7 464.8h0M89.6 459.2h0M91.0 441.6h0M111.3 431.4h0M94.6 470.2h0M120.2 427.1h0M103.8 466.0h0M116.2 461.0h0M95.6 454.3h0M134.7 453.8h0M111.1 432.1h0M105.9 465.5h0M92.7 453.8h0M137.0 465.7h0M88.2 465.7h0M134.4 462.4h0M92.8 444.4h0M121.3 424.9h0M120.9 457.0h0M135.9 466.2h0M95.6 444.1h0M98.2 462.6h0M108.9 435.7h0M93.3 466.2h0M102.3 439.6h0M113.4 465.1h0M117.8 434.9h0M111.1 465.6h0M92.8 455.1h0M104.1 457.1h0M105.6 465.6h0M87.1 458.8h0M119.4 469.3h0M94.0 468.6h0M97.4 465.6h0M91.4 442.8h0M113.4 465.3h0M105.3 470.4h0M89.9 458.3h0M101.5 438.0h0M92.6 451.1h0M93.0 457.6h0M93.1 454.5h0M124.8 468.7h0M87.3 449.8h0M127.8 466.5h0M106.0 465.1h0M110.6 465.3h0M99.2 451.0h0M125.8 439.8h0M105.2 441.6h0M91.7 461.9h0M106.3 470.0h0M103.9 435.0h0M93.6 458.8h0M90.0 459.0h0M125.6 468.0h0M93.5 448.5h0M107.8 431.7h0M112.4 434.8h0M119.2 426.6h0M90.4 450.4h0M99.1 438.2h0M98.5 466.0h0M91.0 443.1h0M104.1 468.4h0M100.4 465.3h0M101.4 463.2h0M92.7 445.8h0M97.4 439.0h0M122.7 429.1h0M101.2 438.6h0M99.4 440.7h0M134.3 448.9h0M99.2 445.5h0M94.9 440.9h0M94.4 448.0h0M125.8 425.5h0M93.1 455.9h0M91.7 462.5h0M91.0 445.2h0M127.9 465.2h0M108.2 431.7h0M109.0 431.4h0M98.5 466.2h0M92.0 469.9h0M106.4 437.8h0M112.1 467.5h0M130.1 458.7h0M118.5 426.0h0M87.8 459.9h0M119.1 434.0h0M87.7 468.3h0M88.8 463.8h0M94.1 446.1h0M117.9 440.7h0M102.1 466.2h0M115.8 467.7h0M95.5 464.5h0M91.0 459.6h0M99.1 465.4h0M105.3 432.9h0M90.3 442.5h0M126.9 453.7h0M116.1 464.8h0M98.6 468.8h0M89.8 445.0h0M127.3 470.2h0M98.1 440.9h0M97.3 446.5h0M99.7 468.8h0M87.7 447.8h0M111.0 468.5h0M87.2 448.3h0M99.7 441.5h0M92.2 464.7h0M129.0 440.1h0M113.7 470.3h0M114.9 465.5h0M99.5 468.3h0M93.2 454.9h0M90.5 442.2h0M90.4 465.7h0M98.4 453.3h0M88.4 443.9h0M113.5 445.9h0M98.1 468.8h0M98.8 469.2h0M125.0 468.0h0M91.0 443.7h0M91.6 450.6h0M122.6 425.2h0M97.7 445.2h0M111.3 429.7h0M103.7 440.9h0M129.7 465.5h0M90.7 457.6h0M129.8 467.5h0M87.5 447.5h0M88.8 453.4h0M111.8 468.9h0M109.1 464.7h0M111.3 432.1h0M87.1 451.8h0M100.6 470.0h0M104.8 445.4h0M96.0 447.3h0M132.6 464.4h0M88.5 449.8h0M115.7 468.1h0M91.3 454.8h0M93.4 449.9h0M106.3 449.7h0M92.6 455.1h0M91.3 464.6h0M90.7 452.3h0M100.4 468.8h0M88.3 451.3h0M117.4 431.2h0M114.6 428.4h0M111.8 430.5h0M98.5 469.0h0M88.5 457.1h0M100.9 435.8h0M102.9 447.1h0M117.4 425.3h0M93.2 469.3h0M110.7 438.4h0M135.4 469.7h0M95.0 448.9h0M119.5 467.8h0M92.4 441.8h0M106.1 445.7h0M140.6 419.1h0M111.5 439.5h0M135.1 414.9h0M104.5 434.1h0M126.8 428.8h0M91.3 451.0h0M105.5 468.5h0M115.5 428.8h0M99.7 447.8h0M95.6 467.0h0M105.2 432.8h0M119.2 466.7h0M95.9 448.5h0M93.0 466.6h0M99.1 470.3h0M91.0 457.8h0M91.2 445.6h0M91.6 452.0h0M101.6 438.0h0M103.2 435.9h0M90.3 462.3h0M96.5 462.3h0M100.8 444.3h0M104.1 453.9h0M131.2 470.4h0M135.4 425.9h0M98.9 456.4h0M89.9 450.8h0M87.3 465.7h0M105.6 460.9h0M90.5 465.2h0M94.4 444.4h0M91.8 445.0h0M99.1 469.0h0M104.9 434.6h0M93.5 440.4h0M104.4 435.4h0M89.7 450.1h0M87.9 456.1h0M89.7 464.5h0M88.3 468.1h0M122.0 466.6h0M99.8 466.8h0M103.8 452.8h0M88.2 443.4h0M91.2 444.3h0M92.7 445.9h0M107.7 432.9h0M92.7 443.1h0M108.3 438.1h0M110.8 438.2h0M98.2 469.3h0M94.4 469.6h0M92.6 464.0h0M103.7 466.5h0M99.5 448.1h0M140.9 454.7h0M120.3 467.8h0M107.6 434.8h0M118.3 424.0h0M93.8 439.8h0M130.3 422.3h0M91.0 445.4h0M133.8 468.4h0M106.0 465.2h0M93.8 447.5h0M100.5 443.9h0M97.7 468.1h0M139.0 470.2h0M96.6 466.2h0M87.5 454.4h0M94.8 447.2h0M116.6 430.3h0M92.9 460.4h0M88.3 464.4h0M136.8 436.2h0M120.5 425.1h0M100.7 467.5h0M123.2 440.4h0M105.7 434.6h0M87.6 460.0h0M117.6 425.4h0M93.9 448.8h0M96.2 455.7h0M107.8 469.9h0M125.1 468.4h0M106.6 431.8h0M115.6 466.5h0M100.2 439.9h0M93.9 462.4h0M97.2 455.6h0M99.9 442.3h0M113.7 431.8h0M103.0 445.7h0M127.3 465.6h0M110.1 468.4h0M93.2 449.3h0M119.3 424.8h0M90.1 458.4h0M93.4 443.9h0M94.5 442.0h0M97.6 448.1h0M89.9 448.0h0M96.3 466.9h0M96.4 468.9h0M111.7 434.8h0M112.9 430.0h0M88.6 454.9h0M95.3 443.0h0M105.3 456.2h0M89.5 457.4h0M106.1 432.9h0M136.2 468.8h0M97.1 444.0h0M92.7 450.5h0M132.7 467.1h0M91.5 457.4h0M101.1 446.0h0M125.0 464.6h0M116.6 470.3h0M110.6 464.6h0M91.2 466.4h0M109.5 464.5h0M113.9 468.4h0M88.8 458.4h0M95.6 445.9h0M135.9 469.2h0M97.9 468.2h0M87.3 465.0h0M109.8 468.7h0M100.0 443.1h0M107.8 441.9h0M92.6 450.3h0M89.1 444.8h0M110.7 459.4h0M90.8 467.2h0M109.2 436.4h0M113.6 427.7h0M91.0 444.6h0M89.9 467.6h0M98.5 438.0h0M112.6 427.7h0M89.3 465.5h0M87.9 457.4h0M109.5 431.6h0M120.6 424.7h0M94.2 470.2h0M99.5 453.7h0M102.3 437.9h0M93.3 453.9h0M93.3 440.8h0M94.3 443.6h0M91.1 468.8h0M106.8 469.5h0M106.6 433.9h0M91.1 465.5h0M89.7 457.8h0M112.1 432.5h0M100.1 447.8h0M94.1 469.5h0M90.4 466.9h0M105.4 437.4h0M99.1 443.4h0M120.0 426.5h0M97.5 468.6h0M128.2 428.5h0M89.0 447.5h0M88.0 455.4h0M95.2 466.9h0M104.8 470.1h0M87.2 444.7h0M101.1 437.6h0M88.6 452.4h0M111.2 457.5h0M109.5 440.3h0M102.2 434.5h0M100.9 442.1h0M89.7 468.9h0M107.3 467.7h0M99.2 439.3h0M94.0 469.6h0M114.1 469.8h0M111.8 469.0h0M117.7 470.5h0M93.4 456.1h0M88.1 460.0h0M107.2 464.8h0M93.4 453.8h0M96.5 444.0h0M111.3 432.9h0M107.8 469.2h0M90.1 467.2h0M96.9 466.0h0M97.8 450.4h0M97.6 443.0h0M103.3 465.9h0M101.8 446.0h0M100.4 440.6h0M116.9 439.3h0M127.6 464.6h0M97.4 447.1h0M118.7 469.3h0M100.5 444.2h0M96.4 466.0h0M90.1 449.9h0M109.4 434.4h0M93.6 443.5h0M136.0 465.5h0M89.3 442.8h0M133.5 464.2h0M101.5 442.6h0M96.4 456.6h0M108.2 467.1h0M101.0 436.7h0M127.7 469.4h0M108.4 435.5h0M134.2 469.4h0M88.4 465.5h0M99.8 466.5h0M94.7 440.1h0M134.3 455.2h0M92.0 470.4h0M119.5 469.3h0M89.4 459.6h0M87.4 464.9h0M103.9 442.5h0M115.0 466.1h0M98.6 467.0h0M97.4 445.9h0M94.5 465.5h0M113.1 469.0h0M110.3 467.9h0M89.8 444.2h0M87.5 448.4h0M102.8 469.3h0M92.8 443.5h0M100.1 467.9h0M117.8 464.8h0M90.6 466.5h0M104.7 434.5h0M92.6 440.8h0M136.3 468.3h0M110.1 431.4h0M88.3 446.8h0M95.7 446.4h0M100.8 461.7h0M110.1 464.9h0M120.0 433.5h0M90.9 466.4h0M92.6 443.5h0M98.8 443.1h0M128.0 449.0h0M89.2 461.1h0M106.3 443.5h0M110.3 436.9h0M132.5 468.4h0M93.5 457.4h0M122.1 431.3h0M100.6 444.0h0M88.3 444.5h0M122.8 453.8h0M119.5 426.4h0M112.5 433.1h0M89.1 449.8h0M130.8 470.4h0M101.2 456.7h0M91.6 453.0h0M89.1 467.9h0M88.0 456.1h0M91.8 467.0h0M93.6 440.8h0M110.5 469.8h0M127.7 464.5h0M89.1 455.7h0M91.4 445.3h0M101.0 443.2h0M103.5 469.2h0M110.5 468.4h0M111.7 444.9h0M92.1 443.6h0M97.4 441.6h0M101.5 434.9h0M97.2 448.4h0M97.8 439.6h0M94.5 466.1h0M89.2 448.6h0M98.1 439.4h0M100.4 437.4h0M88.8 460.5h0M93.8 469.0h0M96.9 441.5h0M93.3 445.8h0M89.4 462.1h0M92.9 463.7h0M100.7 467.3h0M94.9 445.9h0M96.1 469.6h0M118.9 426.7h0M116.5 440.9h0M95.9 469.4h0M99.3 443.6h0M102.9 464.7h0M90.2 454.3h0M118.4 467.8h0M87.5 450.6h0M96.1 442.9h0M90.4 467.1h0M94.9 445.7h0M108.2 466.0h0M115.4 469.2h0M103.9 458.9h0M99.9 454.0h0M123.4 431.1h0M102.6 435.5h0M112.5 429.4h0M96.1 441.4h0M102.5 443.0h0M116.5 468.0h0M113.8 465.9h0M101.0 470.3h0M104.7 433.7h0M95.8 440.5h0M107.8 434.1h0M94.6 446.0h0M125.8 420.5h0M130.1 467.9h0M97.6 442.7h0M111.6 430.1h0M88.8 449.8h0M101.6 466.4h0M100.3 470.4h0M101.7 466.7h0M89.5 450.4h0M124.4 421.4h0M91.8 450.0h0M121.3 434.7h0M90.9 467.0h0M105.4 464.7h0M88.2 451.5h0M110.7 447.2h0M107.1 464.4h0M132.9 464.8h0M129.5 469.9h0M108.9 435.3h0M109.3 469.2h0M91.4 453.1h0M87.1 444.2h0M92.8 455.9h0M94.3 469.1h0M99.2 455.6h0M100.8 448.5h0M88.1 457.7h0M92.1 467.1h0M94.1 448.8h0M90.2 462.0h0M89.2 459.0h0M94.6 443.4h0M105.7 443.6h0M107.9 431.2h0M87.4 469.0h0M138.6 412.5h0M106.1 436.0h0M99.8 440.2h0M90.5 444.8h0M100.6 436.5h0M131.1 467.8h0M100.2 437.0h0M114.8 427.1h0M101.9 456.3h0M89.2 452.0h0M110.7 430.0h0M105.9 467.2h0M129.7 466.4h0M89.4 454.0h0M98.1 444.8h0M87.7 469.1h0M88.6 468.3h0M103.9 459.7h0M121.2 468.0h0M87.9 463.8h0M87.5 446.6h0M87.4 450.6h0M112.4 466.9h0M98.7 466.2h0M94.3 449.5h0M131.9 466.9h0M89.5 452.8h0M119.2 428.8h0M103.5 436.5h0M121.4 458.4h0M101.8 435.3h0M93.7 454.1h0M100.6 456.0h0M89.4 454.5h0M98.0 464.8h0M94.5 457.7h0M88.8 468.8h0M114.2 431.3h0M102.2 441.7h0M106.7 468.9h0M91.1 467.3h0M98.7 444.8h0M87.7 469.6h0M94.3 465.4h0M92.8 466.4h0M106.2 470.4h0M90.2 448.1h0M104.4 443.0h0M112.8 441.8h0M92.2 456.9h0M95.6 450.8h0M90.5 442.1h0M100.5 442.0h0M92.4 447.2h0M88.9 458.5h0M105.6 443.9h0M126.1 437.6h0M97.3 467.6h0M118.3 437.9h0M95.4 442.0h0M96.6 450.6h0M107.3 448.0h0M135.3 420.2h0M101.6 467.0h0M93.1 453.0h0M92.6 470.3h0M119.0 465.1h0M92.3 451.5h0M88.0 444.9h0M104.2 464.7h0M104.1 437.7h0M89.3 452.7h0M98.3 447.6h0M99.6 463.2h0M126.0 466.9h0M109.0 464.8h0M111.9 464.4h0M136.6 468.3h0M87.7 466.5h0M109.0 433.0h0M106.4 434.0h0M104.0 443.6h0M117.4 465.7h0M87.7 458.6h0M95.0 461.7h0M94.4 469.5h0M125.4 436.4h0M124.8 469.8h0M88.3 456.2h0M93.2 451.1h0M116.7 469.3h0M88.2 466.5h0M118.6 427.8h0M101.0 466.8h0M108.7 432.5h0M116.7 426.1h0M122.6 421.2h0M93.9 458.0h0M90.6 467.0h0M98.4 470.5h0M103.1 456.8h0M92.2 460.9h0M98.8 470.0h0M99.4 464.5h0M102.4 452.3h0M107.2 469.7h0M96.0 464.5h0M104.9 462.4h0M105.7 443.1h0M99.3 449.8h0M87.2 459.5h0M123.6 467.3h0M90.7 461.5h0M117.8 467.7h0M96.2 445.0h0M93.8 469.0h0M95.6 466.3h0M99.4 440.7h0M93.9 470.3h0M127.6 469.0h0M101.5 464.5h0M89.2 453.2h0M100.3 467.2h0M128.7 427.3h0M98.0 447.7h0M97.9 442.5h0M108.7 469.3h0M138.9 448.7h0M98.7 447.1h0M95.6 469.6h0M120.0 461.4h0M92.1 462.1h0M98.9 470.3h0M92.1 469.3h0M116.8 425.8h0M109.4 468.9h0M100.2 444.3h0M93.8 445.6h0M106.4 432.7h0M100.4 442.2h0M108.1 468.7h0M91.4 453.3h0M88.2 443.7h0M120.4 466.4h0M88.7 464.3h0M115.1 426.3h0M98.5 465.8h0M140.5 416.5h0M100.8 452.0h0M129.7 428.6h0M105.4 467.8h0M115.5 457.3h0M94.0 469.0h0M96.2 464.7h0M108.8 430.8h0M96.7 445.4h0M133.7 435.2h0M89.5 443.3h0M104.2 469.9h0M87.2 460.1h0M104.3 438.0h0M122.8 468.6h0M114.2 427.0h0M102.3 470.1h0M120.7 451.1h0M99.8 447.9h0M109.6 469.9h0M104.3 467.4h0M121.9 435.1h0M104.2 449.6h0M95.4 469.0h0M96.7 446.4h0M102.8 438.2h0M103.0 436.0h0M92.0 449.5h0M109.0 469.9h0M109.1 434.9h0M93.6 440.6h0M114.2 433.4h0M101.8 449.7h0M92.1 470.0h0M101.0 470.4h0M113.0 428.8h0M131.0 423.5h0M127.0 466.1h0M113.6 466.8h0M107.9 469.2h0M97.9 469.0h0M87.8 461.6h0M115.2 468.5h0M133.2 467.4h0M93.8 455.2h0M110.0 432.3h0M90.1 449.8h0M95.4 467.6h0M114.6 436.6h0M101.8 446.4h0M88.7 463.8h0M101.0 452.0h0M89.9 469.6h0M98.6 437.6h0M90.6 447.6h0M121.4 425.9h0M91.1 444.0h0M97.7 443.3h0M96.8 439.8h0M92.2 449.7h0M92.3 455.1h0M96.8 446.7h0M132.9 438.1h0M135.1 468.5h0M118.6 432.9h0M96.5 466.9h0M104.3 433.0h0M90.6 446.5h0M119.2 429.4h0M103.7 466.9h0M90.5 451.4h0M111.6 464.4h0M106.7 446.6h0M92.6 450.0h0M102.0 438.8h0M88.6 449.5h0M98.9 440.8h0M101.4 470.5h0M98.1 446.5h0M123.6 467.7h0M114.0 455.4h0M101.1 468.8h0M91.7 455.3h0M88.9 445.8h0M109.4 441.8h0M94.6 460.8h0M87.3 460.3h0M122.4 444.6h0M103.9 445.1h0M98.5 457.0h0M97.7 438.9h0M102.5 469.1h0M87.8 457.1h0M101.7 441.3h0M121.7 464.8h0M120.7 423.8h0M104.9 436.5h0M109.2 436.3h0M112.7 470.4h0M103.7 445.2h0M106.5 467.9h0M115.4 467.0h0M112.3 468.0h0M106.9 468.4h0M89.0 456.6h0M88.7 447.8h0M101.4 441.5h0M125.2 420.3h0M95.7 443.8h0M113.5 468.3h0M104.2 454.3h0M101.7 442.9h0M104.9 468.8h0M124.8 430.4h0M91.8 469.0h0M90.4 458.1h0M130.7 467.6h0M124.0 436.1h0M111.6 429.5h0M117.5 429.3h0M106.3 432.3h0M96.8 440.1h0M91.0 457.3h0M101.8 441.6h0M93.2 448.1h0M106.8 444.2h0M117.7 464.4h0M88.7 448.7h0M92.5 469.9h0M90.1 469.7h0M94.5 454.5h0M93.7 454.1h0M102.4 455.1h0M104.7 437.4h0M92.8 458.3h0M89.4 446.1h0M103.7 440.0h0M106.3 434.0h0M116.3 444.2h0M98.2 469.1h0M108.2 437.6h0M105.9 436.0h0M137.6 467.9h0M93.8 449.6h0M106.6 467.4h0M91.3 466.0h0M90.6 462.1h0M126.2 419.4h0M92.7 460.0h0M97.4 465.3h0M100.5 468.1h0M100.6 445.1h0M104.6 437.9h0M119.8 469.8h0M98.1 467.1h0M102.3 454.5h0M118.6 425.2h0M90.4 461.8h0M113.0 465.1h0M94.6 470.3h0M106.8 443.6h0M99.1 442.6h0M87.5 448.3h0M94.3 469.5h0M103.7 437.2h0M120.0 426.6h0M106.7 434.0h0M99.4 453.9h0M97.5 444.8h0M96.5 444.8h0M118.9 445.3h0M94.0 453.2h0M96.8 448.4h0M102.4 464.5h0M87.2 445.2h0M111.0 435.8h0M116.3 425.8h0M120.7 426.2h0M90.0 464.2h0M97.6 451.8h0M97.0 452.8h0M93.6 465.1h0M100.4 440.6h0M122.9 464.9h0M98.0 440.5h0M98.8 443.9h0M116.7 465.6h0M91.8 455.0h0M89.5 455.8h0M87.3 465.6h0M87.5 454.5h0M93.3 457.7h0M94.5 456.3h0M115.5 470.1h0M111.7 434.9h0M107.8 432.3h0M91.7 467.3h0M138.2 469.4h0M91.7 462.5h0M133.2 469.5h0M91.4 452.0h0M100.5 436.4h0M95.0 442.0h0M98.9 466.4h0M99.8 439.5h0M98.5 467.0h0M109.0 432.4h0M107.7 441.5h0M91.0 450.3h0M99.6 470.1h0M101.0 465.7h0M95.7 456.9h0M108.2 437.5h0M136.7 418.3h0M98.2 467.8h0M94.0 464.2h0M112.9 449.3h0M137.9 435.8h0M114.9 431.6h0M94.0 467.9h0M97.3 439.5h0M100.8 436.4h0M97.6 448.7h0M96.0 464.9h0M88.6 461.7h0M89.2 466.0h0M96.3 467.9h0M131.7 418.8h0M121.3 467.3h0M109.5 448.3h0M129.0 444.6h0M119.3 430.2h0M104.1 465.8h0M139.0 467.4h0M109.5 468.6h0M112.9 443.0h0M90.5 462.8h0M100.4 466.6h0M104.2 446.0h0M93.0 443.6h0M90.1 442.9h0M107.3 467.4h0M106.4 434.1h0M95.9 444.2h0M121.3 431.4h0M108.0 433.0h0M131.6 426.9h0M89.8 446.4h0M96.8 446.1h0M106.0 446.5h0M115.2 434.1h0M92.6 449.6h0M109.8 433.5h0M95.8 449.8h0M103.3 468.7h0M94.9 444.7h0M119.2 424.5h0M90.1 449.5h0M102.8 435.8h0M91.7 451.9h0M110.9 439.3h0M105.0 468.4h0M102.9 467.9h0M110.6 467.4h0M92.3 446.8h0M92.2 441.0h0M93.2 469.4h0M95.1 468.6h0M109.6 466.4h0M100.9 435.7h0M99.2 440.4h0M103.7 434.1h0M92.3 447.3h0M133.8 426.0h0M91.9 445.9h0M123.8 421.7h0M97.9 470.5h0M105.4 437.9h0M110.7 470.4h0M94.8 448.0h0M105.8 468.8h0M97.7 437.3h0M122.3 422.3h0M123.0 427.6h0M119.6 469.5h0M111.5 448.4h0M103.5 443.5h0M124.2 425.3h0M131.4 470.4h0M112.4 435.2h0M108.0 466.4h0M102.7 436.0h0M94.8 468.9h0M100.2 438.1h0M88.0 468.7h0M93.0 461.7h0M93.8 444.3h0M121.6 423.4h0M87.4 450.3h0M112.2 431.0h0M94.1 448.3h0M95.5 466.7h0M99.9 449.8h0M109.8 443.2h0M88.3 456.3h0M127.6 447.4h0M110.5 430.6h0M94.4 461.1h0M103.6 470.3h0M90.1 452.2h0M103.1 433.9h0M91.6 461.7h0M115.3 429.2h0M107.2 470.5h0M88.2 454.3h0M91.4 443.3h0M101.9 468.1h0M99.6 436.5h0M116.9 424.9h0M101.9 441.0h0M114.2 434.0h0M102.2 467.8h0M115.1 431.4h0M115.4 467.0h0M88.4 462.7h0M94.1 468.9h0M97.7 467.1h0M94.0 467.0h0M134.3 465.1h0M115.1 470.2h0M135.6 420.4h0M119.1 441.4h0M112.0 467.2h0M92.0 448.9h0M105.9 466.4h0M128.6 468.2h0M99.8 443.3h0M92.9 448.9h0M95.5 466.1h0M88.9 463.0h0M105.2 445.1h0M96.7 467.1h0M106.4 438.6h0M97.9 462.1h0M95.4 470.4h0M95.8 460.3h0M113.8 429.6h0M106.0 433.9h0M90.5 458.5h0M116.8 427.5h0M87.6 448.0h0M104.1 469.3h0M104.9 468.1h0M108.5 430.7h0M104.7 455.5h0M105.7 468.4h0M95.3 447.2h0M94.4 468.3h0M99.6 458.8h0M96.5 446.2h0M134.6 422.3h0M95.9 468.6h0M94.1 461.9h0M88.2 459.1h0M91.8 453.7h0M121.6 426.6h0M112.3 430.4h0M112.2 464.3h0M108.7 467.2h0M113.7 464.3h0M103.1 434.2h0M119.3 426.1h0M94.4 456.7h0M116.0 425.8h0M93.5 449.3h0M105.1 467.4h0M87.1 464.9h0M92.5 441.9h0M96.2 464.8h0M102.2 439.7h0M106.3 466.4h0M94.5 464.8h0M115.3 469.3h0M90.4 453.2h0M104.2 467.8h0M97.5 444.2h0M88.9 451.3h0M97.1 439.8h0M90.7 456.9h0M110.7 453.9h0M93.7 469.5h0M88.5 467.7h0M125.1 465.7h0M95.0 443.9h0M89.2 464.6h0M90.6 452.5h0M110.1 432.9h0M110.9 432.6h0M99.9 439.4h0M87.9 458.2h0M90.6 452.7h0M99.6 438.9h0M130.3 426.1h0M88.4 461.3h0M95.4 444.6h0M134.3 468.5h0M119.2 428.9h0M92.5 451.4h0M92.1 452.5h0M90.1 469.7h0M126.4 467.1h0M100.8 439.0h0M109.9 432.3h0M94.1 450.2h0M130.8 438.2h0M111.9 466.6h0M88.6 468.2h0M92.3 449.6h0M91.0 443.0h0M91.9 466.4h0M87.2 467.5h0M88.9 459.7h0M98.0 439.7h0M96.2 443.3h0M118.3 428.5h0M99.4 469.5h0M107.4 466.0h0M91.6 441.3h0M100.2 465.2h0M95.8 443.7h0M91.7 451.7h0" stroke="#f98b25" stroke-width="1.15" stroke-linecap="round" fill="none"/>
<path d="M138.8 418.1h0M152.6 404.0h0M162.4 398.4h0M157.5 400.0h0M156.0 407.5h0M129.8 417.8h0M145.5 416.5h0M163.9 405.0h0M138.0 414.3h0M157.9 404.6h0M142.5 409.9h0M139.4 420.5h0M172.5 409.9h0M148.2 418.5h0M126.5 421.9h0M172.1 392.2h0M138.4 416.4h0M151.4 403.6h0M131.2 420.0h0M164.4 397.7h0M161.0 400.3h0M144.1 416.1h0M134.6 418.8h0M126.1 427.0h0M138.3 417.2h0M173.7 395.0h0M138.5 417.6h0M149.3 415.2h0M149.5 416.6h0M151.0 406.7h0M135.4 421.7h0M148.7 406.5h0M141.2 414.9h0M126.2 427.0h0M128.3 425.9h0M170.4 410.1h0M142.3 414.1h0M168.0 393.0h0M128.6 420.7h0M148.6 420.1h0M134.7 416.8h0M139.7 422.6h0M133.5 422.9h0M161.3 401.5h0M162.5 397.2h0M155.8 404.1h0M147.2 408.1h0M167.3 397.2h0M146.0 411.1h0M173.1 393.7h0M174.7 394.5h0M167.8 398.3h0M126.4 421.8h0M133.7 421.3h0M146.2 414.1h0M172.2 399.9h0M169.4 398.6h0M135.8 415.7h0M161.3 397.7h0M126.8 429.6h0M130.8 425.6h0M146.8 410.2h0M171.1 403.4h0M125.6 423.7h0M145.4 413.7h0M146.0 408.4h0M166.3 399.3h0M141.2 412.0h0M170.2 391.4h0M147.4 409.6h0" stroke="#f98b25" stroke-width="1.0" stroke-linecap="round" fill="none"/>
<polygon fill="#1a1a1a" points="36.7,471.1 36.7,466.3 137.2,401.5 147.5,395.8 150.2,398.2 142.8,409.6 45.3,471.1"/>
<path d="M138.9 403.7h0M153.4 394.6h0M141.1 408.5h0M162.9 391.9h0M137.8 407.3h0M153.0 397.2h0M154.6 397.0h0M142.2 402.1h0M148.4 401.1h0M161.9 394.5h0M157.2 389.9h0M154.0 394.3h0M166.4 388.3h0M170.0 381.8h0M140.5 401.8h0M153.6 391.7h0M150.4 400.0h0M147.2 395.5h0M165.0 390.1h0M141.1 403.6h0M145.7 402.2h0M142.9 407.6h0M157.3 391.0h0M150.2 393.2h0M140.3 408.4h0M138.7 400.6h0M166.0 383.4h0M169.2 390.2h0M152.1 399.5h0M154.4 399.9h0M184.8 375.4h0M153.6 391.2h0M171.4 382.2h0M143.9 402.8h0M140.4 408.3h0M168.8 390.1h0M161.4 393.3h0M184.1 377.9h0M154.1 399.0h0M141.8 402.6h0M145.8 403.2h0M146.3 398.8h0M149.0 402.4h0M146.6 404.9h0M186.0 372.3h0M167.9 389.3h0M141.5 406.6h0M153.3 391.9h0M141.9 403.6h0M145.7 398.5h0M163.7 385.7h0M140.5 406.5h0M170.9 385.0h0M146.9 402.5h0M161.0 391.0h0M148.8 394.7h0M139.0 408.6h0M142.4 399.3h0M135.5 406.4h0M157.5 388.3h0M158.8 390.1h0M136.7 406.6h0M141.2 408.1h0M156.3 397.1h0M160.4 395.1h0M147.5 399.6h0M147.8 394.7h0M137.7 404.7h0M150.7 398.5h0M150.1 402.7h0M148.6 399.5h0M162.1 389.0h0M152.5 401.1h0M147.5 401.2h0M139.6 407.1h0M148.2 398.9h0M150.3 401.7h0M152.4 393.8h0M142.1 404.7h0M148.1 395.5h0M146.5 397.7h0M148.2 394.8h0M157.1 391.2h0M153.8 395.4h0M146.2 404.6h0M155.3 394.3h0M170.2 380.7h0M149.9 398.0h0M153.6 398.9h0M152.2 400.1h0M158.5 392.9h0M144.1 400.9h0M136.6 408.9h0M143.5 403.2h0M154.8 399.6h0M156.6 391.7h0M157.3 394.8h0M169.0 389.7h0M143.3 405.1h0M168.7 381.1h0M145.8 404.0h0M143.2 401.1h0M140.2 399.8h0M156.7 395.6h0M166.4 388.9h0M148.3 396.9h0M151.0 401.6h0M149.7 403.2h0M145.8 404.2h0M151.0 395.4h0M174.6 386.2h0M150.0 394.7h0M141.0 408.1h0M143.9 400.1h0M154.3 392.2h0M138.1 404.5h0M157.3 392.1h0M162.4 389.1h0M151.6 393.5h0M151.1 398.9h0M151.4 401.7h0M144.4 405.9h0M160.5 388.1h0M161.5 390.0h0M147.3 397.2h0M140.0 404.4h0M165.4 386.1h0M149.5 400.2h0M139.1 404.0h0M137.1 401.4h0M146.8 405.0h0M174.1 385.5h0M164.0 385.8h0M147.1 400.1h0M140.3 404.0h0M138.9 401.1h0M158.7 396.1h0M163.6 393.1h0M157.8 392.9h0M155.6 392.9h0M138.8 404.8h0M143.8 397.4h0M167.5 385.6h0M148.9 403.6h0M160.4 386.9h0M172.3 382.1h0M161.9 386.8h0M155.0 391.8h0M144.3 397.1h0M145.7 399.4h0M141.2 401.2h0M138.6 404.8h0M160.4 388.7h0M144.1 406.9h0M139.8 408.5h0M146.5 405.2h0M162.1 387.3h0M136.9 403.6h0M150.1 402.9h0M141.5 398.8h0M138.2 403.5h0M158.6 396.2h0M145.5 404.0h0M167.0 384.0h0M142.1 400.1h0M161.1 386.2h0M135.4 410.1h0M151.9 393.7h0M138.0 404.7h0M144.7 400.7h0M185.3 375.6h0M153.1 400.5h0M180.4 379.6h0M152.3 401.3h0M158.8 388.8h0M152.7 391.5h0M161.6 394.1h0M149.0 393.9h0M152.1 397.6h0M138.3 405.7h0M142.1 405.3h0M150.6 400.6h0M143.0 400.6h0M143.0 401.9h0M135.6 404.5h0M141.0 408.1h0M147.6 404.3h0M136.2 406.3h0M168.2 386.6h0M179.1 383.8h0M148.9 400.9h0M148.2 397.1h0M148.1 402.5h0M146.9 396.5h0M173.0 378.7h0M141.7 404.1h0M168.5 385.9h0M159.1 390.0h0M161.6 387.7h0M141.6 404.5h0M159.8 390.9h0M155.7 391.8h0M152.3 396.4h0M147.9 400.3h0M140.4 400.6h0M160.3 392.2h0M165.9 385.5h0M165.4 389.0h0M148.4 402.5h0M169.3 388.8h0M167.6 384.9h0M145.3 401.5h0M161.9 392.1h0M169.3 383.2h0M142.3 402.3h0M144.4 399.4h0M150.8 395.0h0M135.6 408.0h0M150.8 398.5h0M147.6 394.8h0M161.7 391.3h0M146.9 400.6h0M147.2 401.7h0M178.8 375.4h0M140.8 408.8h0M162.4 394.7h0M144.1 406.0h0M162.5 385.6h0M163.1 390.1h0M163.2 392.2h0M149.9 393.5h0M138.6 402.8h0M179.8 378.7h0M174.1 383.1h0M156.1 396.8h0M138.8 406.0h0M146.9 397.1h0M139.9 403.1h0M136.1 404.2h0M137.9 408.5h0M155.3 394.2h0M160.3 388.1h0M148.1 399.5h0M166.9 391.4h0M146.3 399.3h0M147.7 395.1h0M188.6 376.2h0M147.7 399.9h0M157.0 390.2h0M162.2 391.5h0M152.9 391.7h0M141.1 399.0h0M144.9 401.3h0M151.9 396.4h0M135.5 406.1h0M141.8 404.1h0M138.7 403.5h0M149.9 399.7h0M167.3 383.0h0M151.1 393.0h0M162.6 390.7h0M160.9 392.3h0M136.2 402.0h0M167.5 383.7h0M153.7 398.0h0M156.8 394.9h0M145.9 396.4h0M139.1 405.1h0M138.7 408.6h0M152.8 392.1h0M153.8 392.6h0M170.1 387.4h0M176.1 383.8h0M147.3 403.1h0M144.2 398.4h0M157.1 393.9h0M172.8 383.9h0M156.8 397.7h0M136.7 410.4h0M136.1 412.1h0M157.6 391.2h0M158.0 393.1h0M143.7 404.0h0M161.1 386.5h0M141.4 405.9h0M162.2 390.5h0M142.8 401.8h0M140.4 408.9h0M172.5 384.8h0M159.1 388.0h0M158.6 394.8h0M162.4 394.5h0M137.6 409.6h0M144.3 404.9h0M143.2 406.6h0M160.9 391.8h0M142.7 404.9h0M135.8 409.2h0M173.2 382.2h0M181.0 377.5h0M169.2 383.5h0M144.4 406.2h0M170.5 382.7h0M178.3 379.7h0M138.1 406.7h0M141.7 400.4h0M157.0 396.9h0M142.9 407.5h0M170.5 385.9h0M167.7 390.4h0M175.1 379.8h0M137.6 401.4h0M149.9 401.6h0M149.2 399.0h0M146.5 398.0h0M139.3 400.4h0M145.6 400.2h0M145.8 403.2h0M145.6 402.9h0M138.9 402.0h0M149.1 397.1h0M169.3 383.8h0M181.3 379.9h0M147.6 399.5h0M137.8 409.1h0M142.7 403.1h0M172.5 388.0h0M161.0 386.1h0M169.5 384.4h0M137.3 407.9h0M161.7 390.2h0M147.5 398.6h0M138.8 405.4h0M138.3 401.4h0M146.5 395.4h0M158.6 395.9h0M135.8 406.0h0M178.8 382.0h0M144.0 399.4h0M137.0 403.3h0M157.2 395.9h0M164.1 393.3h0M145.4 399.9h0M153.9 399.5h0M162.5 391.3h0M164.1 391.8h0M140.4 400.2h0M140.6 403.1h0M140.6 405.9h0M154.4 391.4h0M157.9 388.2h0M143.8 401.6h0M154.3 390.6h0M162.9 385.2h0M164.9 385.7h0M142.8 401.5h0M139.9 408.8h0M151.4 393.6h0M151.0 399.0h0M167.7 383.8h0M151.8 398.5h0M141.5 403.6h0M142.3 405.9h0M164.7 386.5h0M138.4 410.5h0M141.5 405.5h0M154.7 392.0h0M143.3 397.3h0M159.8 387.2h0M160.7 387.2h0M163.7 390.0h0M135.8 405.9h0M172.6 383.7h0M146.3 399.1h0M159.4 396.3h0M147.7 396.2h0M169.1 390.4h0M147.0 403.7h0M141.2 406.5h0M155.2 390.0h0M174.3 379.1h0M183.8 379.7h0M144.7 405.4h0M150.3 394.3h0M150.5 399.6h0M167.8 390.6h0M160.0 391.4h0M146.7 404.0h0M147.7 398.5h0M149.2 396.3h0M160.9 392.9h0M158.1 395.4h0M147.4 400.5h0M177.3 379.6h0M143.0 407.4h0M140.8 404.7h0M141.8 407.4h0M140.3 400.2h0M155.3 390.3h0M139.2 408.6h0M157.6 389.6h0M160.0 393.7h0M147.3 402.5h0M150.9 394.8h0M151.3 398.4h0M155.8 394.0h0M153.3 395.4h0M190.0 368.2h0M136.2 411.7h0M137.2 411.4h0M163.4 389.8h0M145.0 398.9h0M158.2 395.3h0M138.7 408.1h0M144.8 402.7h0M172.1 384.7h0M174.4 382.7h0M143.3 398.5h0M148.3 403.0h0M138.0 409.1h0M156.3 396.5h0M152.5 397.8h0M138.3 402.2h0M136.3 402.9h0M159.7 395.0h0M144.5 402.6h0M136.5 402.3h0M146.1 401.8h0M152.6 394.4h0M156.4 397.2h0M152.4 395.9h0M154.1 393.5h0M146.5 401.4h0M145.7 396.5h0M142.1 399.0h0M168.1 386.6h0M154.9 392.7h0M147.5 400.3h0M158.2 396.8h0M159.8 387.6h0M159.0 396.2h0M154.9 391.6h0M141.3 408.7h0M161.6 385.7h0M146.7 404.6h0M167.1 382.6h0M170.5 383.9h0M137.1 402.1h0M157.0 394.7h0M165.8 386.3h0M148.3 394.4h0M162.4 389.2h0M170.8 387.7h0M167.0 388.1h0M184.5 380.1h0M138.0 406.1h0M148.1 403.8h0M142.4 399.9h0M169.7 380.9h0M160.4 388.6h0M140.1 401.6h0M182.4 372.2h0M145.5 403.6h0M152.3 398.8h0M146.6 400.6h0M136.0 408.1h0M137.7 405.5h0M162.9 386.0h0M157.5 389.4h0M159.8 391.3h0M168.8 389.3h0M156.2 394.5h0M145.5 403.4h0M159.2 395.9h0M138.1 410.6h0M159.9 389.0h0M143.1 400.9h0M144.2 398.3h0M149.1 396.7h0M173.4 384.5h0M152.7 401.3h0M157.8 389.0h0M145.0 397.6h0M141.1 408.2h0M149.6 402.9h0M151.3 395.5h0M136.2 408.5h0M164.6 384.7h0M163.8 390.5h0M138.9 404.0h0M139.8 401.3h0M139.6 400.4h0M159.8 390.7h0M150.1 395.1h0M189.3 372.5h0M168.9 385.4h0M142.8 405.6h0M142.1 403.0h0M152.4 397.5h0M168.2 381.9h0M166.1 390.1h0M138.7 403.6h0M151.6 399.2h0M151.8 399.3h0M151.5 395.4h0M154.3 398.1h0M137.9 402.4h0M138.6 402.8h0M145.3 405.5h0M154.8 393.1h0M144.6 404.4h0M170.1 387.9h0M173.7 383.5h0M155.5 392.0h0M136.3 406.0h0M150.7 398.2h0M147.2 400.2h0M149.9 394.0h0M153.9 392.0h0M162.8 390.7h0M148.9 401.1h0M159.4 389.7h0M151.7 399.0h0M151.5 392.4h0M147.5 401.8h0M160.4 389.4h0M162.1 395.0h0M161.7 392.4h0M163.4 390.2h0M152.1 395.0h0M156.9 389.1h0M156.3 389.5h0M140.7 399.3h0M147.9 395.5h0M140.0 405.6h0M173.1 382.2h0M157.6 394.3h0M135.9 407.4h0M154.1 397.1h0M153.0 394.6h0M146.2 399.1h0M167.6 388.4h0M166.9 388.0h0M139.0 406.2h0M135.8 410.1h0M157.4 391.8h0M154.3 390.7h0M148.2 394.3h0M146.0 395.9h0M157.6 396.0h0M144.3 402.1h0M139.7 407.6h0M185.2 372.0h0M145.7 401.9h0M156.7 394.3h0M146.1 402.1h0M152.2 396.8h0M135.4 403.7h0M137.9 406.5h0M142.3 400.0h0M165.8 390.0h0M152.4 396.5h0M140.2 406.7h0M161.6 393.0h0M153.4 392.2h0M166.1 386.6h0M146.8 397.2h0M140.0 403.4h0M146.2 403.6h0M162.8 392.9h0M171.7 385.4h0M137.8 402.1h0M172.6 382.7h0M143.0 400.9h0M153.5 397.9h0M138.7 404.8h0M166.3 388.8h0M157.4 390.2h0M167.0 382.1h0M140.5 403.0h0M146.4 400.4h0M155.3 397.3h0M147.7 397.3h0M155.3 391.1h0M146.5 403.5h0M147.8 399.4h0M153.0 397.7h0M163.7 388.4h0M138.3 406.0h0M167.4 386.8h0M144.2 400.4h0M153.9 390.9h0M147.0 396.0h0M149.4 396.5h0M142.6 406.1h0M140.2 403.6h0M150.9 400.0h0M135.5 405.6h0M148.4 403.7h0M157.1 389.9h0M137.6 408.3h0M177.6 381.5h0M160.8 393.3h0M135.8 403.3h0M135.9 406.5h0M147.3 404.0h0M151.9 393.4h0M169.5 385.7h0M167.3 389.9h0M145.9 399.4h0M166.5 382.3h0M158.4 387.9h0M166.5 382.6h0M139.6 406.1h0M144.7 397.7h0M141.8 402.3h0M142.4 406.4h0M161.1 386.1h0M153.3 395.1h0M178.0 377.1h0M152.0 395.5h0M150.6 401.2h0M190.0 369.1h0" stroke="#333" stroke-width="0.95" stroke-linecap="round" fill="none"/>
<line x1="27.6" y1="471.4" x2="193.9" y2="364.0" stroke="#111" stroke-width="1.2"/>
<line x1="36.9" y1="477.4" x2="202.3" y2="370.6" stroke="#111" stroke-width="1.2"/>
</g>
<rect x="30.3" y="360.5" width="177.0" height="115.5" fill="none" stroke="#777" stroke-width="0.9"/>
<line x1="30.4" y1="476" x2="30.4" y2="477.8" stroke="#333" stroke-width="0.6"/>
<text x="30.4" y="484.3" font-size="5.5" stroke="#111" stroke-width="0.3" text-anchor="middle" font-family='"DejaVu Sans", "Liberation Sans", sans-serif' fill="#222">0.0</text>
<line x1="28.5" y1="475.6" x2="30.3" y2="475.6" stroke="#333" stroke-width="0.6"/>
<text x="27.5" y="477.6" font-size="5.5" stroke="#111" stroke-width="0.3" text-anchor="end" font-family='"DejaVu Sans", "Liberation Sans", sans-serif' fill="#222">0.0</text>
<line x1="53.6" y1="476" x2="53.6" y2="477.8" stroke="#333" stroke-width="0.6"/>
<text x="53.6" y="484.3" font-size="5.5" stroke="#111" stroke-width="0.3" text-anchor="middle" font-family='"DejaVu Sans", "Liberation Sans", sans-serif' fill="#222">2.5</text>
<line x1="28.5" y1="460.6" x2="30.3" y2="460.6" stroke="#333" stroke-width="0.6"/>
<text x="27.5" y="462.6" font-size="5.5" stroke="#111" stroke-width="0.3" text-anchor="end" font-family='"DejaVu Sans", "Liberation Sans", sans-serif' fill="#222">2.5</text>
<line x1="76.8" y1="476" x2="76.8" y2="477.8" stroke="#333" stroke-width="0.6"/>
<text x="76.8" y="484.3" font-size="5.5" stroke="#111" stroke-width="0.3" text-anchor="middle" font-family='"DejaVu Sans", "Liberation Sans", sans-serif' fill="#222">5.0</text>
<line x1="28.5" y1="445.6" x2="30.3" y2="445.6" stroke="#333" stroke-width="0.6"/>
<text x="27.5" y="447.6" font-size="5.5" stroke="#111" stroke-width="0.3" text-anchor="end" font-family='"DejaVu Sans", "Liberation Sans", sans-serif' fill="#222">5.0</text>
<line x1="100.1" y1="476" x2="100.1" y2="477.8" stroke="#333" stroke-width="0.6"/>
<text x="100.1" y="484.3" font-size="5.5" stroke="#111" stroke-width="0.3" text-anchor="middle" font-family='"DejaVu Sans", "Liberation Sans", sans-serif' fill="#222">7.5</text>
<line x1="28.5" y1="430.6" x2="30.3" y2="430.6" stroke="#333" stroke-width="0.6"/>
<text x="27.5" y="432.6" font-size="5.5" stroke="#111" stroke-width="0.3" text-anchor="end" font-family='"DejaVu Sans", "Liberation Sans", sans-serif' fill="#222">7.5</text>
<line x1="123.3" y1="476" x2="123.3" y2="477.8" stroke="#333" stroke-width="0.6"/>
<text x="123.3" y="484.3" font-size="5.5" stroke="#111" stroke-width="0.3" text-anchor="middle" font-family='"DejaVu Sans", "Liberation Sans", sans-serif' fill="#222">10.0</text>
<line x1="28.5" y1="415.6" x2="30.3" y2="415.6" stroke="#333" stroke-width="0.6"/>
<text x="27.5" y="417.6" font-size="5.5" stroke="#111" stroke-width="0.3" text-anchor="end" font-family='"DejaVu Sans", "Liberation Sans", sans-serif' fill="#222">10.0</text>
<line x1="146.5" y1="476" x2="146.5" y2="477.8" stroke="#333" stroke-width="0.6"/>
<text x="146.5" y="484.3" font-size="5.5" stroke="#111" stroke-width="0.3" text-anchor="middle" font-family='"DejaVu Sans", "Liberation Sans", sans-serif' fill="#222">12.5</text>
<line x1="28.5" y1="400.6" x2="30.3" y2="400.6" stroke="#333" stroke-width="0.6"/>
<text x="27.5" y="402.6" font-size="5.5" stroke="#111" stroke-width="0.3" text-anchor="end" font-family='"DejaVu Sans", "Liberation Sans", sans-serif' fill="#222">12.5</text>
<line x1="169.8" y1="476" x2="169.8" y2="477.8" stroke="#333" stroke-width="0.6"/>
<text x="169.8" y="484.3" font-size="5.5" stroke="#111" stroke-width="0.3" text-anchor="middle" font-family='"DejaVu Sans", "Liberation Sans", sans-serif' fill="#222">15.0</text>
<line x1="28.5" y1="385.6" x2="30.3" y2="385.6" stroke="#333" stroke-width="0.6"/>
<text x="27.5" y="387.6" font-size="5.5" stroke="#111" stroke-width="0.3" text-anchor="end" font-family='"DejaVu Sans", "Liberation Sans", sans-serif' fill="#222">15.0</text>
<line x1="193.0" y1="476" x2="193.0" y2="477.8" stroke="#333" stroke-width="0.6"/>
<text x="193.0" y="484.3" font-size="5.5" stroke="#111" stroke-width="0.3" text-anchor="middle" font-family='"DejaVu Sans", "Liberation Sans", sans-serif' fill="#222">17.5</text>
<line x1="28.5" y1="370.6" x2="30.3" y2="370.6" stroke="#333" stroke-width="0.6"/>
<text x="27.5" y="372.6" font-size="5.5" stroke="#111" stroke-width="0.3" text-anchor="end" font-family='"DejaVu Sans", "Liberation Sans", sans-serif' fill="#222">17.5</text>
<text x="119.5" y="497" font-size="9" text-anchor="middle" stroke="#111" stroke-width="0.22">CD49a<tspan font-size="6" dy="-3">+</tspan><tspan dy="3"> NK cell</tspan></text>
<text transform="translate(8.0,419.4) rotate(-90)" font-size="9.05" text-anchor="middle" stroke="#111" stroke-width="0.22">CD49a<tspan font-size="6" dy="-3">−</tspan><tspan dy="3"> NK cell</tspan></text>
<text x="34.5" y="374.3" font-size="8.3" fill="#474c8e">9,071</text>
<text x="201.3" y="468.5" font-size="8.3" text-anchor="end" fill="#e07b2a">1,446</text>
<text x="67.7" y="391.5" font-size="5.2" font-family='"DejaVu Sans", "Liberation Sans", sans-serif' fill="#222" stroke="none">NCR1</text>
<text x="58" y="403.6" font-size="5.2" font-family='"DejaVu Sans", "Liberation Sans", sans-serif' fill="#222" stroke="none">NCR3</text>
<text x="53.8" y="415.2" font-size="5.2" font-family='"DejaVu Sans", "Liberation Sans", sans-serif' fill="#222" stroke="none">NCR2</text>
<text x="35.6" y="424.2" font-size="5.2" font-family='"DejaVu Sans", "Liberation Sans", sans-serif' fill="#222" stroke="none">LAMP1</text>
<text x="142" y="439.8" font-size="5.2" font-family='"DejaVu Sans", "Liberation Sans", sans-serif' fill="#222" stroke="none">CD200R1</text>
<g fill="none" stroke="#222" stroke-width="0.85">
<path d="M80.8 394.4 Q 93 408 114.4 411.5"/>
<path d="M71 406 Q 80 417 95 423.2"/>
<path d="M59.6 417.5 Q 54 435 52 453"/>
<path d="M41.3 425 L 40.4 438.6"/>
<path d="M138.5 437.5 Q 112 438 89.2 445.2"/>
</g>
<circle cx="114.4" cy="411.5" r="0.9" fill="#111"/>
<circle cx="95" cy="423.2" r="0.9" fill="#111"/>
<circle cx="52" cy="453" r="0.9" fill="#111"/>
<circle cx="40.4" cy="438.6" r="0.9" fill="#111"/>
<circle cx="89.2" cy="445.2" r="0.9" fill="#111"/>
<rect x="264.5" y="351" width="117.80000000000001" height="101.19999999999999" fill="none" stroke="#d8d8d8" stroke-width="0.6"/>
<line x1="264.5" y1="399.3" x2="382.3" y2="399.3" stroke="#dcdcdc" stroke-width="0.5"/>
<line x1="264.5" y1="392.4" x2="382.3" y2="392.4" stroke="#c8c8c8" stroke-width="0.6"/>
<line x1="264.5" y1="439.6" x2="382.3" y2="439.6" stroke="#dcdcdc" stroke-width="0.5"/>
<line x1="263.0" y1="355.3" x2="264.5" y2="355.3" stroke="#444" stroke-width="0.5"/>
<text x="262.2" y="357.7" font-size="5.5" font-weight="bold" text-anchor="end" fill="#222" stroke="#222" stroke-width="0.22">0.30</text>
<line x1="263.0" y1="367.6" x2="264.5" y2="367.6" stroke="#444" stroke-width="0.5"/>
<text x="262.2" y="370.0" font-size="5.5" font-weight="bold" text-anchor="end" fill="#222" stroke="#222" stroke-width="0.22">0.20</text>
<line x1="263.0" y1="380" x2="264.5" y2="380" stroke="#444" stroke-width="0.5"/>
<text x="262.2" y="382.4" font-size="5.5" font-weight="bold" text-anchor="end" fill="#222" stroke="#222" stroke-width="0.22">0.10</text>
<line x1="263.0" y1="392.3" x2="264.5" y2="392.3" stroke="#444" stroke-width="0.5"/>
<text x="262.2" y="394.7" font-size="5.5" font-weight="bold" text-anchor="end" fill="#222" stroke="#222" stroke-width="0.22">0.00</text>
<line x1="263.0" y1="399.3" x2="264.5" y2="399.3" stroke="#444" stroke-width="0.5"/>
<text x="262.2" y="401.7" font-size="5.5" font-weight="bold" text-anchor="end" fill="#222" stroke="#222" stroke-width="0.22">-0.05</text>
<rect x="267.20" y="399.7" width="0.6" height="16.10" fill="#000" opacity="0.45"/>
<rect x="269.70" y="399.7" width="0.6" height="16.10" fill="#000" opacity="0.80"/>
<rect x="270.60" y="399.7" width="0.6" height="16.10" fill="#000" opacity="0.60"/>
<rect x="273.40" y="399.7" width="0.6" height="16.10" fill="#000" opacity="1.00"/>
<rect x="274.50" y="399.7" width="0.6" height="16.10" fill="#000" opacity="1.00"/>
<rect x="278.40" y="399.7" width="0.6" height="16.10" fill="#000" opacity="0.60"/>
<rect x="279.50" y="399.7" width="0.6" height="16.10" fill="#000" opacity="0.60"/>
<rect x="280.40" y="399.7" width="0.6" height="16.10" fill="#000" opacity="0.45"/>
<rect x="281.50" y="399.7" width="0.6" height="16.10" fill="#000" opacity="1.00"/>
<rect x="282.60" y="399.7" width="0.6" height="16.10" fill="#000" opacity="0.60"/>
<rect x="283.90" y="399.7" width="0.6" height="16.10" fill="#000" opacity="1.00"/>
<rect x="285.90" y="399.7" width="0.6" height="16.10" fill="#000" opacity="1.00"/>
<rect x="286.80" y="399.7" width="0.6" height="16.10" fill="#000" opacity="1.00"/>
<rect x="288.40" y="399.7" width="0.6" height="16.10" fill="#000" opacity="1.00"/>
<rect x="289.50" y="399.7" width="0.6" height="16.10" fill="#000" opacity="1.00"/>
<rect x="290.40" y="399.7" width="0.6" height="16.10" fill="#000" opacity="1.00"/>
<rect x="291.50" y="399.7" width="0.6" height="16.10" fill="#000" opacity="1.00"/>
<rect x="292.60" y="399.7" width="0.6" height="16.10" fill="#000" opacity="0.80"/>
<rect x="294.70" y="399.7" width="0.6" height="16.10" fill="#000" opacity="1.00"/>
<rect x="295.80" y="399.7" width="0.6" height="16.10" fill="#000" opacity="1.00"/>
<rect x="296.90" y="399.7" width="0.6" height="16.10" fill="#000" opacity="0.60"/>
<rect x="298.20" y="399.7" width="0.6" height="16.10" fill="#000" opacity="1.00"/>
<rect x="299.50" y="399.7" width="0.6" height="16.10" fill="#000" opacity="0.60"/>
<rect x="302.20" y="399.7" width="0.6" height="16.10" fill="#000" opacity="1.00"/>
<rect x="303.50" y="399.7" width="0.6" height="16.10" fill="#000" opacity="1.00"/>
<rect x="304.80" y="399.7" width="0.6" height="16.10" fill="#000" opacity="0.80"/>
<rect x="305.70" y="399.7" width="0.6" height="16.10" fill="#000" opacity="0.45"/>
<rect x="307.00" y="399.7" width="0.6" height="16.10" fill="#000" opacity="1.00"/>
<rect x="308.30" y="399.7" width="0.6" height="16.10" fill="#000" opacity="0.80"/>
<rect x="309.60" y="399.7" width="0.6" height="16.10" fill="#000" opacity="0.60"/>
<rect x="310.90" y="399.7" width="0.6" height="16.10" fill="#000" opacity="1.00"/>
<rect x="312.50" y="399.7" width="0.6" height="16.10" fill="#000" opacity="0.60"/>
<rect x="313.60" y="399.7" width="0.6" height="16.10" fill="#000" opacity="1.00"/>
<rect x="314.90" y="399.7" width="0.6" height="16.10" fill="#000" opacity="1.00"/>
<rect x="318.40" y="399.7" width="0.6" height="16.10" fill="#000" opacity="0.60"/>
<rect x="319.30" y="399.7" width="0.6" height="16.10" fill="#000" opacity="0.45"/>
<rect x="320.90" y="399.7" width="0.6" height="16.10" fill="#000" opacity="0.80"/>
<rect x="322.50" y="399.7" width="0.6" height="16.10" fill="#000" opacity="0.45"/>
<rect x="323.40" y="399.7" width="0.6" height="16.10" fill="#000" opacity="0.60"/>
<rect x="324.30" y="399.7" width="0.6" height="16.10" fill="#000" opacity="1.00"/>
<rect x="325.40" y="399.7" width="0.6" height="16.10" fill="#000" opacity="1.00"/>
<rect x="326.50" y="399.7" width="0.6" height="16.10" fill="#000" opacity="0.60"/>
<rect x="327.80" y="399.7" width="0.6" height="16.10" fill="#000" opacity="0.45"/>
<rect x="330.90" y="399.7" width="0.6" height="16.10" fill="#000" opacity="0.45"/>
<rect x="332.20" y="399.7" width="0.6" height="16.10" fill="#000" opacity="0.60"/>
<rect x="333.10" y="399.7" width="0.6" height="16.10" fill="#000" opacity="0.45"/>
<rect x="334.40" y="399.7" width="0.6" height="16.10" fill="#000" opacity="0.80"/>
<rect x="335.90" y="399.7" width="0.6" height="16.10" fill="#000" opacity="0.60"/>
<rect x="336.80" y="399.7" width="0.6" height="16.10" fill="#000" opacity="1.00"/>
<rect x="338.10" y="399.7" width="0.6" height="16.10" fill="#000" opacity="0.45"/>
<rect x="339.40" y="399.7" width="0.6" height="16.10" fill="#000" opacity="1.00"/>
<rect x="340.70" y="399.7" width="0.6" height="16.10" fill="#000" opacity="0.80"/>
<rect x="341.60" y="399.7" width="0.6" height="16.10" fill="#000" opacity="0.80"/>
<rect x="344.70" y="399.7" width="0.6" height="16.10" fill="#000" opacity="0.80"/>
<rect x="345.80" y="399.7" width="0.6" height="16.10" fill="#000" opacity="1.00"/>
<rect x="346.90" y="399.7" width="0.6" height="16.10" fill="#000" opacity="0.80"/>
<rect x="349.70" y="399.7" width="0.6" height="16.10" fill="#000" opacity="1.00"/>
<rect x="350.60" y="399.7" width="0.6" height="16.10" fill="#000" opacity="1.00"/>
<rect x="353.40" y="399.7" width="0.6" height="16.10" fill="#000" opacity="1.00"/>
<rect x="354.50" y="399.7" width="0.6" height="16.10" fill="#000" opacity="0.45"/>
<rect x="355.80" y="399.7" width="0.6" height="16.10" fill="#000" opacity="0.80"/>
<rect x="358.40" y="399.7" width="0.6" height="16.10" fill="#000" opacity="0.60"/>
<rect x="359.50" y="399.7" width="0.6" height="16.10" fill="#000" opacity="1.00"/>
<rect x="360.40" y="399.7" width="0.6" height="16.10" fill="#000" opacity="0.60"/>
<rect x="367.20" y="399.7" width="0.6" height="16.10" fill="#000" opacity="1.00"/>
<rect x="368.30" y="399.7" width="0.6" height="16.10" fill="#000" opacity="0.45"/>
<rect x="369.40" y="399.7" width="0.6" height="16.10" fill="#000" opacity="0.60"/>
<rect x="370.30" y="399.7" width="0.6" height="16.10" fill="#000" opacity="1.00"/>
<linearGradient id="st1" x1="0" x2="1"><stop offset="0" stop-color="#e8333a"/><stop offset="0.2" stop-color="#ee5a60"/><stop offset="0.32" stop-color="#f08c98"/><stop offset="0.34" stop-color="#f4b8c8"/><stop offset="0.47" stop-color="#f0c4d8"/><stop offset="0.49" stop-color="#cfc8ea"/><stop offset="0.7" stop-color="#bdb8e2"/><stop offset="0.72" stop-color="#8a88cc"/><stop offset="0.85" stop-color="#6a6ac0"/><stop offset="1" stop-color="#3c44b0"/></linearGradient>
<rect x="264.5" y="415.8" width="111.80000000000001" height="3.8000000000000114" fill="url(#st1)"/>
<text x="268.5" y="422.6" font-size="2.95" fill="#e03030" opacity="0.65">CD49a_positive (positively correlated)</text>
<text x="268.0" y="429.8" font-size="6.1" fill="#e0262c">CD49a+ NK cells</text>
<path d="M264.5 430.5 L264.5 438.9 L324.22 438.9 Q 284.624 438 264.5 430.5Z" fill="#c2c2c2"/>
<path d="M331.22 439.3 L376.3 439.3 L376.3 451 Q 364.3 441.5 331.22 439.3Z" fill="#c2c2c2"/>
<text x="319.282" y="436.8" font-size="2.7" text-anchor="middle" fill="#333">Zero cross at 8177</text>
<text x="368.3" y="447.4" font-size="6.1" text-anchor="end" fill="#2c3596">CD49a- NK cells</text>
<text x="375.3" y="450.6" font-size="2.95" text-anchor="end" fill="#3038a0" opacity="0.7">CD49a_negative (negatively correlated)</text>
<path d="M264.75 390.60 L265.25 384.40 L266.90 386.25 L268.10 383.10 L269.75 386.25 L271.25 376.90 L272.50 378.10 L273.75 369.40 L276.00 361.90 L279.40 365.60 L282.50 360.60 L284.40 355.60 L285.60 356.90 L288.10 354.00 L290.00 353.75 L291.90 354.75 L293.75 353.50 L296.25 355.00 L301.25 358.75 L307.50 363.75 L313.75 370.00 L320.00 376.25 L327.50 381.25 L335.00 386.00 L336.90 385.60 L340.60 385.60 L343.10 384.75 L346.90 386.25 L349.40 388.10 L352.50 390.60 L355.00 388.75 L357.50 388.75 L361.25 391.25 L363.75 393.75 L366.90 396.50 L369.40 392.50 L370.60 388.75 L371.90 391.90 L373.50 389.40 L375.00 391.50 L376.90 392.75" fill="none" stroke="#9ad36a" stroke-width="1.6" stroke-linejoin="round" opacity="0.6"/>
<path d="M264.75 390.60 L265.25 384.40 L266.90 386.25 L268.10 383.10 L269.75 386.25 L271.25 376.90 L272.50 378.10 L273.75 369.40 L276.00 361.90 L279.40 365.60 L282.50 360.60 L284.40 355.60 L285.60 356.90 L288.10 354.00 L290.00 353.75 L291.90 354.75 L293.75 353.50 L296.25 355.00 L301.25 358.75 L307.50 363.75 L313.75 370.00 L320.00 376.25 L327.50 381.25 L335.00 386.00 L336.90 385.60 L340.60 385.60 L343.10 384.75 L346.90 386.25 L349.40 388.10 L352.50 390.60 L355.00 388.75 L357.50 388.75 L361.25 391.25 L363.75 393.75 L366.90 396.50 L369.40 392.50 L370.60 388.75 L371.90 391.90 L373.50 389.40 L375.00 391.50 L376.90 392.75" fill="none" stroke="#6cbd45" stroke-width="0.9" stroke-linejoin="round"/>
<text x="355.6" y="360.70" font-size="7.5" text-anchor="middle" fill="#111" stroke="#111" stroke-width="0.22">NEG regulation</text>
<text x="355.6" y="369.95" font-size="7.5" text-anchor="middle" fill="#111" stroke="#111" stroke-width="0.22">of immune</text>
<text x="355.6" y="379.20" font-size="7.5" text-anchor="middle" fill="#111" stroke="#111" stroke-width="0.22">response</text>
<text transform="translate(245.2,377.7) rotate(-90)" font-size="7.5" text-anchor="middle" fill="#111" stroke="#111" stroke-width="0.22">Enrichment score</text>
<rect x="400.6" y="351" width="119.0" height="101.19999999999999" fill="none" stroke="#d8d8d8" stroke-width="0.6"/>
<line x1="400.6" y1="399.3" x2="519.6" y2="399.3" stroke="#dcdcdc" stroke-width="0.5"/>
<line x1="400.6" y1="380.4" x2="519.6" y2="380.4" stroke="#c8c8c8" stroke-width="0.6"/>
<line x1="400.6" y1="439.6" x2="519.6" y2="439.6" stroke="#dcdcdc" stroke-width="0.5"/>
<line x1="399.1" y1="356.5" x2="400.6" y2="356.5" stroke="#444" stroke-width="0.5"/>
<text x="398.3" y="358.9" font-size="5.5" font-weight="bold" text-anchor="end" fill="#222" stroke="#222" stroke-width="0.22">0.20</text>
<line x1="399.1" y1="368.4" x2="400.6" y2="368.4" stroke="#444" stroke-width="0.5"/>
<text x="398.3" y="370.79999999999995" font-size="5.5" font-weight="bold" text-anchor="end" fill="#222" stroke="#222" stroke-width="0.22">0.10</text>
<line x1="399.1" y1="380.4" x2="400.6" y2="380.4" stroke="#444" stroke-width="0.5"/>
<text x="398.3" y="382.79999999999995" font-size="5.5" font-weight="bold" text-anchor="end" fill="#222" stroke="#222" stroke-width="0.22">0.00</text>
<line x1="399.1" y1="391.9" x2="400.6" y2="391.9" stroke="#444" stroke-width="0.5"/>
<text x="398.3" y="394.29999999999995" font-size="5.5" font-weight="bold" text-anchor="end" fill="#222" stroke="#222" stroke-width="0.22">-0.10</text>
<line x1="399.1" y1="398.7" x2="400.6" y2="398.7" stroke="#444" stroke-width="0.5"/>
<text x="398.3" y="401.09999999999997" font-size="5.5" font-weight="bold" text-anchor="end" fill="#222" stroke="#222" stroke-width="0.22">-0.15</text>
<rect x="415.85" y="399.7" width="0.6" height="16.10" fill="#000" opacity="0.70"/>
<rect x="416.82" y="399.7" width="0.6" height="16.10" fill="#000" opacity="0.90"/>
<rect x="418.02" y="399.7" width="0.6" height="16.10" fill="#000" opacity="1.00"/>
<rect x="419.46" y="399.7" width="0.6" height="16.10" fill="#000" opacity="0.50"/>
<rect x="424.75" y="399.7" width="0.6" height="16.10" fill="#000" opacity="0.70"/>
<rect x="427.63" y="399.7" width="0.6" height="16.10" fill="#000" opacity="0.90"/>
<rect x="430.76" y="399.7" width="0.6" height="16.10" fill="#000" opacity="0.50"/>
<rect x="433.88" y="399.7" width="0.6" height="16.10" fill="#000" opacity="0.90"/>
<rect x="437.97" y="399.7" width="0.6" height="16.10" fill="#000" opacity="0.50"/>
<rect x="442.78" y="399.7" width="0.6" height="16.10" fill="#000" opacity="0.50"/>
<rect x="443.98" y="399.7" width="0.6" height="16.10" fill="#000" opacity="0.70"/>
<rect x="446.38" y="399.7" width="0.6" height="16.10" fill="#000" opacity="0.50"/>
<rect x="448.07" y="399.7" width="0.6" height="16.10" fill="#000" opacity="0.70"/>
<rect x="454.80" y="399.7" width="0.6" height="16.10" fill="#000" opacity="0.70"/>
<rect x="457.20" y="399.7" width="0.6" height="16.10" fill="#000" opacity="0.50"/>
<rect x="460.81" y="399.7" width="0.6" height="16.10" fill="#000" opacity="0.50"/>
<rect x="464.41" y="399.7" width="0.6" height="16.10" fill="#000" opacity="0.90"/>
<rect x="466.82" y="399.7" width="0.6" height="16.10" fill="#000" opacity="1.00"/>
<rect x="470.42" y="399.7" width="0.6" height="16.10" fill="#000" opacity="0.50"/>
<rect x="472.82" y="399.7" width="0.6" height="16.10" fill="#000" opacity="0.90"/>
<rect x="474.03" y="399.7" width="0.6" height="16.10" fill="#000" opacity="0.50"/>
<rect x="476.43" y="399.7" width="0.6" height="16.10" fill="#000" opacity="0.70"/>
<rect x="478.35" y="399.7" width="0.6" height="16.10" fill="#000" opacity="0.90"/>
<rect x="480.04" y="399.7" width="0.6" height="16.10" fill="#000" opacity="1.00"/>
<rect x="484.84" y="399.7" width="0.6" height="16.10" fill="#000" opacity="0.50"/>
<rect x="487.25" y="399.7" width="0.6" height="16.10" fill="#000" opacity="0.70"/>
<rect x="490.85" y="399.7" width="0.6" height="16.10" fill="#000" opacity="0.70"/>
<rect x="505.28" y="399.7" width="0.6" height="16.10" fill="#000" opacity="1.00"/>
<rect x="507.68" y="399.7" width="0.6" height="16.10" fill="#000" opacity="0.70"/>
<linearGradient id="st2" x1="0" x2="1"><stop offset="0" stop-color="#e8333a"/><stop offset="0.2" stop-color="#ee5a60"/><stop offset="0.32" stop-color="#f08c98"/><stop offset="0.34" stop-color="#f4b8c8"/><stop offset="0.47" stop-color="#f0c4d8"/><stop offset="0.49" stop-color="#cfc8ea"/><stop offset="0.7" stop-color="#bdb8e2"/><stop offset="0.72" stop-color="#8a88cc"/><stop offset="0.85" stop-color="#6a6ac0"/><stop offset="1" stop-color="#3c44b0"/></linearGradient>
<rect x="400.6" y="415.8" width="113.0" height="3.8000000000000114" fill="url(#st2)"/>
<text x="404.6" y="422.6" font-size="2.95" fill="#e03030" opacity="0.65">CD49a_positive (positively correlated)</text>
<text x="404.1" y="429.8" font-size="6.1" fill="#e0262c">CD49a+ NK cells</text>
<path d="M400.6 430.5 L400.6 438.9 L460.8 438.9 Q 420.94 438 400.6 430.5Z" fill="#c2c2c2"/>
<path d="M467.8 439.3 L513.6 439.3 L513.6 451 Q 501.6 441.5 467.8 439.3Z" fill="#c2c2c2"/>
<text x="455.97" y="436.8" font-size="2.7" text-anchor="middle" fill="#333">Zero cross at 8177</text>
<text x="505.6" y="447.4" font-size="6.1" text-anchor="end" fill="#2c3596">CD49a- NK cells</text>
<text x="512.6" y="450.6" font-size="2.95" text-anchor="end" fill="#3038a0" opacity="0.7">CD49a_negative (negatively correlated)</text>
<path d="M400.60 380.00 L400.60 356.25 L416.25 372.50 L417.25 368.10 L418.10 369.40 L420.60 353.75 L421.90 355.60 L423.75 353.50 L425.60 356.90 L426.90 355.00 L429.40 359.40 L430.60 356.25 L432.50 357.50 L435.00 357.50 L445.00 365.60 L460.00 381.25 L467.50 388.10 L470.60 388.75 L473.75 390.60 L476.25 390.00 L478.75 391.50 L482.50 391.25 L486.25 393.10 L489.40 393.75 L491.25 382.50 L495.00 385.00 L505.00 396.90 L506.50 386.90 L508.10 385.00 L509.40 386.25 L510.25 376.90 L511.90 378.75 L513.10 380.60" fill="none" stroke="#9ad36a" stroke-width="1.6" stroke-linejoin="round" opacity="0.6"/>
<path d="M400.60 380.00 L400.60 356.25 L416.25 372.50 L417.25 368.10 L418.10 369.40 L420.60 353.75 L421.90 355.60 L423.75 353.50 L425.60 356.90 L426.90 355.00 L429.40 359.40 L430.60 356.25 L432.50 357.50 L435.00 357.50 L445.00 365.60 L460.00 381.25 L467.50 388.10 L470.60 388.75 L473.75 390.60 L476.25 390.00 L478.75 391.50 L482.50 391.25 L486.25 393.10 L489.40 393.75 L491.25 382.50 L495.00 385.00 L505.00 396.90 L506.50 386.90 L508.10 385.00 L509.40 386.25 L510.25 376.90 L511.90 378.75 L513.10 380.60" fill="none" stroke="#6cbd45" stroke-width="0.9" stroke-linejoin="round"/>
<text x="485.2" y="360.70" font-size="7.5" text-anchor="middle" fill="#111" stroke="#111" stroke-width="0.22">NEG regulation of</text>
<text x="485.2" y="369.95" font-size="7.5" text-anchor="middle" fill="#111" stroke="#111" stroke-width="0.22">innate immune</text>
<text x="485.2" y="379.20" font-size="7.5" text-anchor="middle" fill="#111" stroke="#111" stroke-width="0.22">response</text>
<rect x="403" y="470.7" width="63.7" height="6.0" fill="#111"/>
<text x="396.4" y="476.3" font-size="7.85" text-anchor="end" fill="#111" stroke="#111" stroke-width="0.22">Immune response</text>
<rect x="403" y="480.4" width="78.5" height="6.2" fill="#111"/>
<text x="396.4" y="485.8" font-size="7.85" text-anchor="end" fill="#111" stroke="#111" stroke-width="0.22">Regulation of immune system process</text>
<rect x="403" y="490.1" width="61.1" height="6.3" fill="#111"/>
<text x="396.4" y="495.3" font-size="7.85" text-anchor="end" fill="#111" stroke="#111" stroke-width="0.22">Immune system process</text>
<rect x="403" y="500.1" width="48.8" height="6.5" fill="#111"/>
<text x="396.4" y="504.8" font-size="7.85" text-anchor="end" fill="#111" stroke="#111" stroke-width="0.22">NEG regulation of innate immune response</text>
<rect x="403" y="509.8" width="31.5" height="6.2" fill="#111"/>
<text x="396.4" y="514.3" font-size="7.85" text-anchor="end" fill="#111" stroke="#111" stroke-width="0.22">NEG regulation of immune response</text>
<line x1="403" y1="468.5" x2="403" y2="517.3" stroke="#111" stroke-width="0.8"/>
<line x1="402.6" y1="517" x2="507.4" y2="517" stroke="#111" stroke-width="0.8"/>
<line x1="403" y1="517" x2="403" y2="519" stroke="#111" stroke-width="0.6"/>
<text x="403" y="524.9" font-size="5.5" stroke="#111" stroke-width="0.3" text-anchor="middle" font-family='"DejaVu Sans", "Liberation Sans", sans-serif' fill="#222">0.0</text>
<line x1="429.0" y1="517" x2="429.0" y2="519" stroke="#111" stroke-width="0.6"/>
<text x="429.0" y="524.9" font-size="5.5" stroke="#111" stroke-width="0.3" text-anchor="middle" font-family='"DejaVu Sans", "Liberation Sans", sans-serif' fill="#222">0.2</text>
<line x1="455.0" y1="517" x2="455.0" y2="519" stroke="#111" stroke-width="0.6"/>
<text x="455.0" y="524.9" font-size="5.5" stroke="#111" stroke-width="0.3" text-anchor="middle" font-family='"DejaVu Sans", "Liberation Sans", sans-serif' fill="#222">0.4</text>
<line x1="481.0" y1="517" x2="481.0" y2="519" stroke="#111" stroke-width="0.6"/>
<text x="481.0" y="524.9" font-size="5.5" stroke="#111" stroke-width="0.3" text-anchor="middle" font-family='"DejaVu Sans", "Liberation Sans", sans-serif' fill="#222">0.6</text>
<line x1="507.0" y1="517" x2="507.0" y2="519" stroke="#111" stroke-width="0.6"/>
<text x="507.0" y="524.9" font-size="5.5" stroke="#111" stroke-width="0.3" text-anchor="middle" font-family='"DejaVu Sans", "Liberation Sans", sans-serif' fill="#222">0.8</text>
<text x="446" y="535.8" font-size="8.0" text-anchor="middle" word-spacing="1.5" fill="#111" stroke="#111" stroke-width="0.22">Enrichment score</text>
</svg>
</body></html>
